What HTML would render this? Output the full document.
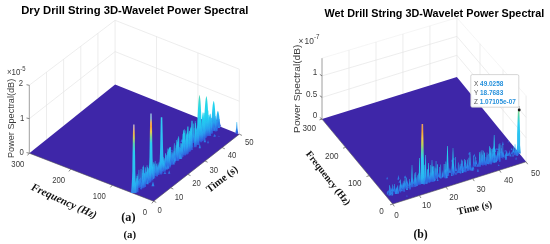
<!DOCTYPE html>
<html><head><meta charset="utf-8"><title>3D-Wavelet Power Spectral</title>
<style>html,body{margin:0;padding:0;background:#fff}svg{display:block}</style></head>
<body>
<svg width="550" height="244" viewBox="0 0 550 244">
<rect width="550" height="244" fill="#FFFFFF"/>
<line x1="29.3" y1="118.7" x2="115.1" y2="51.6" stroke="#E3E3E3" stroke-width="0.65"/>
<line x1="115.1" y1="51.6" x2="239.3" y2="101.2" stroke="#E3E3E3" stroke-width="0.65"/>
<line x1="29.3" y1="85.2" x2="115.1" y2="20.3" stroke="#E3E3E3" stroke-width="0.65"/>
<line x1="115.1" y1="20.3" x2="239.3" y2="69.2" stroke="#E3E3E3" stroke-width="0.65"/>
<line x1="46.5" y1="139.4" x2="46.5" y2="72.2" stroke="#E3E3E3" stroke-width="0.65"/>
<line x1="63.6" y1="125.7" x2="63.6" y2="59.2" stroke="#E3E3E3" stroke-width="0.65"/>
<line x1="80.8" y1="111.9" x2="80.8" y2="46.3" stroke="#E3E3E3" stroke-width="0.65"/>
<line x1="97.9" y1="98.2" x2="97.9" y2="33.3" stroke="#E3E3E3" stroke-width="0.65"/>
<line x1="115.1" y1="84.4" x2="115.1" y2="20.3" stroke="#E3E3E3" stroke-width="0.65"/>
<line x1="156.5" y1="101.0" x2="156.5" y2="36.6" stroke="#E3E3E3" stroke-width="0.65"/>
<line x1="197.9" y1="117.6" x2="197.9" y2="52.9" stroke="#E3E3E3" stroke-width="0.65"/>
<line x1="239.3" y1="134.2" x2="239.3" y2="69.2" stroke="#E3E3E3" stroke-width="0.65"/>
<polygon points="29.3,153.2 153.6,201.2 239.3,134.2 115.1,84.4" fill="#3E26A8"/>
<line x1="29.3" y1="153.2" x2="29.3" y2="85.2" stroke="#6a6a6a" stroke-width="0.65"/>
<line x1="29.3" y1="153.2" x2="153.6" y2="201.2" stroke="#555555" stroke-width="0.6"/>
<line x1="153.6" y1="201.2" x2="239.3" y2="134.2" stroke="#555555" stroke-width="0.6"/>
<line x1="29.3" y1="153.2" x2="26.5" y2="152.6" stroke="#555555" stroke-width="0.7"/>
<line x1="29.3" y1="118.6" x2="26.5" y2="118.0" stroke="#555555" stroke-width="0.7"/>
<line x1="29.3" y1="85.3" x2="26.5" y2="84.7" stroke="#555555" stroke-width="0.7"/>
<line x1="153.6" y1="201.2" x2="151.8" y2="203.4" stroke="#555555" stroke-width="0.7"/>
<line x1="112.2" y1="185.2" x2="110.4" y2="187.4" stroke="#555555" stroke-width="0.7"/>
<line x1="70.7" y1="169.2" x2="68.9" y2="171.4" stroke="#555555" stroke-width="0.7"/>
<line x1="29.3" y1="153.2" x2="27.5" y2="155.4" stroke="#555555" stroke-width="0.7"/>
<line x1="153.6" y1="201.2" x2="156.2" y2="202.4" stroke="#555555" stroke-width="0.7"/>
<line x1="170.7" y1="187.8" x2="173.3" y2="189.0" stroke="#555555" stroke-width="0.7"/>
<line x1="187.9" y1="174.4" x2="190.5" y2="175.6" stroke="#555555" stroke-width="0.7"/>
<line x1="205.0" y1="161.0" x2="207.6" y2="162.2" stroke="#555555" stroke-width="0.7"/>
<line x1="222.2" y1="147.6" x2="224.8" y2="148.8" stroke="#555555" stroke-width="0.7"/>
<line x1="239.3" y1="134.2" x2="241.9" y2="135.4" stroke="#555555" stroke-width="0.7"/>
<defs><linearGradient id="L10" x1="0" y1="1" x2="0" y2="0"><stop offset="0.00" stop-color="#3254DA"/><stop offset="0.50" stop-color="#2B8EED"/><stop offset="1.00" stop-color="#26B6F2"/></linearGradient><linearGradient id="L8" x1="0" y1="1" x2="0" y2="0"><stop offset="0.00" stop-color="#3254DA"/><stop offset="0.50" stop-color="#2C86EC"/><stop offset="1.00" stop-color="#28A6F0"/></linearGradient><linearGradient id="L16" x1="0" y1="1" x2="0" y2="0"><stop offset="0.00" stop-color="#3254DA"/><stop offset="0.50" stop-color="#28A6F0"/><stop offset="1.00" stop-color="#24C6F1"/></linearGradient><linearGradient id="L12" x1="0" y1="1" x2="0" y2="0"><stop offset="0.00" stop-color="#3254DA"/><stop offset="0.50" stop-color="#2A96EE"/><stop offset="1.00" stop-color="#25BBF2"/></linearGradient><linearGradient id="L28" x1="0" y1="1" x2="0" y2="0"><stop offset="0.00" stop-color="#3254DA"/><stop offset="0.25" stop-color="#299EEF"/><stop offset="0.50" stop-color="#24C0F1"/><stop offset="0.75" stop-color="#22D1EF"/><stop offset="1.00" stop-color="#26D5EB"/></linearGradient><linearGradient id="L18" x1="0" y1="1" x2="0" y2="0"><stop offset="0.00" stop-color="#3254DA"/><stop offset="0.33" stop-color="#2A96EE"/><stop offset="0.67" stop-color="#25BBF2"/><stop offset="1.00" stop-color="#23CBF0"/></linearGradient><linearGradient id="L24" x1="0" y1="1" x2="0" y2="0"><stop offset="0.00" stop-color="#3254DA"/><stop offset="0.25" stop-color="#2A96EE"/><stop offset="0.50" stop-color="#25BBF2"/><stop offset="0.75" stop-color="#23CBF0"/><stop offset="1.00" stop-color="#24D2EE"/></linearGradient><linearGradient id="L14" x1="0" y1="1" x2="0" y2="0"><stop offset="0.00" stop-color="#3254DA"/><stop offset="0.50" stop-color="#299EEF"/><stop offset="1.00" stop-color="#24C0F1"/></linearGradient><linearGradient id="L20" x1="0" y1="1" x2="0" y2="0"><stop offset="0.00" stop-color="#3254DA"/><stop offset="0.33" stop-color="#299BEF"/><stop offset="0.67" stop-color="#25BFF1"/><stop offset="1.00" stop-color="#22D0F0"/></linearGradient><linearGradient id="L40" x1="0" y1="1" x2="0" y2="0"><stop offset="0.00" stop-color="#3254DA"/><stop offset="0.17" stop-color="#299BEF"/><stop offset="0.33" stop-color="#25BFF1"/><stop offset="0.50" stop-color="#22D0F0"/><stop offset="0.67" stop-color="#25D4EC"/><stop offset="0.83" stop-color="#29D8E7"/><stop offset="1.00" stop-color="#3BD7CD"/></linearGradient><linearGradient id="L26" x1="0" y1="1" x2="0" y2="0"><stop offset="0.00" stop-color="#3254DA"/><stop offset="0.25" stop-color="#2A9AEE"/><stop offset="0.50" stop-color="#25BEF1"/><stop offset="0.75" stop-color="#22CFF0"/><stop offset="1.00" stop-color="#25D4EC"/></linearGradient><linearGradient id="L22" x1="0" y1="1" x2="0" y2="0"><stop offset="0.00" stop-color="#3254DA"/><stop offset="0.33" stop-color="#29A1EF"/><stop offset="0.67" stop-color="#24C2F1"/><stop offset="1.00" stop-color="#23D1EF"/></linearGradient><linearGradient id="L46" x1="0" y1="1" x2="0" y2="0"><stop offset="0.00" stop-color="#3254DA"/><stop offset="0.14" stop-color="#299BEF"/><stop offset="0.29" stop-color="#25BEF1"/><stop offset="0.43" stop-color="#22CFF0"/><stop offset="0.57" stop-color="#25D4EC"/><stop offset="0.71" stop-color="#28D8E8"/><stop offset="0.86" stop-color="#3AD7CF"/><stop offset="1.00" stop-color="#58D5AA"/></linearGradient><linearGradient id="Lc13" x1="0" y1="1" x2="0" y2="0"><stop offset="0.00" stop-color="#3282E6"/><stop offset="0.12" stop-color="#28B4F2"/><stop offset="1.00" stop-color="#30CDF2"/></linearGradient><linearGradient id="Lc14" x1="0" y1="1" x2="0" y2="0"><stop offset="0.00" stop-color="#3282E6"/><stop offset="0.12" stop-color="#28B4F2"/><stop offset="0.55" stop-color="#2CCDF0"/><stop offset="0.64" stop-color="#78D296"/><stop offset="0.72" stop-color="#E6C850"/><stop offset="0.80" stop-color="#F5A03C"/><stop offset="0.86" stop-color="#F0AA5A"/><stop offset="0.92" stop-color="#8CB4D2"/><stop offset="1.00" stop-color="#8CAAD7"/></linearGradient><linearGradient id="Lc15" x1="0" y1="1" x2="0" y2="0"><stop offset="0.00" stop-color="#3282E6"/><stop offset="0.12" stop-color="#28B4F2"/><stop offset="0.60" stop-color="#2CCDF0"/><stop offset="0.72" stop-color="#5AD2B4"/><stop offset="0.80" stop-color="#C8D25A"/><stop offset="0.87" stop-color="#F0B450"/><stop offset="0.94" stop-color="#D2AAA0"/><stop offset="1.00" stop-color="#B4AAC8"/></linearGradient><filter id="Lb" x="-5%" y="-5%" width="110%" height="110%"><feGaussianBlur stdDeviation="0.35"/></filter></defs>
<g filter="url(#Lb)"><polygon points="213.3,125.5 214.6,119.0 215.9,125.5" fill="#2B8FED"/><path d="M214.6,125.9 Q215.3,121.4 215.4,115.9 L215.9,115.9 Q216.0,121.4 216.7,125.9 Z" fill="url(#L10)"/><path d="M213.5,126.0 Q214.3,121.9 214.3,117.0 L214.8,117.0 Q214.9,121.9 215.6,126.0 Z" fill="url(#L8)"/><path d="M202.9,126.0 Q203.7,122.6 203.8,118.5 L204.3,118.5 Q204.4,122.6 205.1,126.0 Z" fill="url(#L8)"/><path d="M214.8,126.2 Q215.6,122.7 215.6,118.4 L216.1,118.4 Q216.2,122.7 216.9,126.2 Z" fill="url(#L8)"/><path d="M214.3,126.4 C216.5,125.7 216.1,112.7 217.9,110.8 C219.7,112.7 219.3,125.7 221.5,126.4 Z" fill="url(#L16)"/><path d="M212.1,127.1 Q212.9,121.9 213.0,115.6 L213.5,115.6 Q213.5,121.9 214.3,127.1 Z" fill="url(#L12)"/><polygon points="201.7,127.1 203.1,122.8 204.5,127.1" fill="#2D80EA"/><path d="M218.2,127.4 Q218.9,123.6 219.0,119.0 L219.5,119.0 Q219.5,123.6 220.2,127.4 Z" fill="url(#L8)"/><polygon points="210.8,127.9 211.7,121.1 212.5,127.9" fill="#2B91ED"/><path d="M214.7,127.9 Q215.7,124.8 215.9,120.9 L216.4,120.9 Q216.5,124.8 217.5,127.9 Z" fill="url(#L8)"/><polygon points="217.9,128.1 218.9,122.7 220.0,128.1" fill="#2C89EC"/><path d="M210.0,128.6 Q210.9,123.9 211.1,118.1 L211.6,118.1 Q211.7,123.9 212.7,128.6 Z" fill="url(#L10)"/><path d="M207.2,128.7 Q207.8,125.1 207.9,120.7 L208.4,120.7 Q208.4,125.1 209.0,128.7 Z" fill="url(#L8)"/><polygon points="212.9,128.8 214.0,123.8 215.1,128.8" fill="#2C86EC"/><path d="M215.5,128.8 Q216.4,125.1 216.5,120.5 L217.0,120.5 Q217.1,125.1 218.0,128.8 Z" fill="url(#L8)"/><path d="M216.3,128.9 Q216.9,125.3 216.9,121.0 L217.4,121.0 Q217.4,125.3 218.0,128.9 Z" fill="url(#L8)"/><path d="M212.3,129.3 Q213.2,121.7 213.4,112.4 L213.9,112.4 Q214.0,121.7 214.9,129.3 Z" fill="url(#L16)"/><path d="M209.5,129.4 Q210.1,122.4 210.1,113.8 L210.6,113.8 Q210.6,122.4 211.2,129.4 Z" fill="url(#L16)"/><path d="M210.9,129.4 Q211.9,125.3 212.0,120.3 L212.5,120.3 Q212.7,125.3 213.7,129.4 Z" fill="url(#L10)"/><path d="M213.4,129.6 Q214.3,126.2 214.4,122.0 L214.9,122.0 Q215.0,126.2 215.8,129.6 Z" fill="url(#L8)"/><path d="M208.1,129.7 Q208.8,125.3 208.9,120.1 L209.4,120.1 Q209.4,125.3 210.1,129.7 Z" fill="url(#L10)"/><path d="M209.7,129.7 C212.1,128.3 211.7,104.4 213.7,101.0 C215.7,104.4 215.3,128.3 217.7,129.7 Z" fill="url(#L28)"/><path d="M208.2,130.0 Q209.1,124.2 209.2,117.1 L209.7,117.1 Q209.9,124.2 210.7,130.0 Z" fill="url(#L12)"/><polygon points="207.8,130.2 208.9,124.1 209.9,130.2" fill="#2B8DED"/><path d="M210.6,130.4 Q211.4,124.7 211.4,117.7 L211.9,117.7 Q212.0,124.7 212.8,130.4 Z" fill="url(#L12)"/><polygon points="215.4,130.5 216.6,127.2 217.8,130.5" fill="#2E75E6"/><path d="M210.7,130.5 Q211.8,126.9 212.0,122.6 L212.5,122.6 Q212.7,126.9 213.7,130.5 Z" fill="url(#L8)"/><polygon points="213.3,130.6 214.7,126.4 216.1,130.6" fill="#2D7DE9"/><polygon points="212.3,130.7 213.2,125.8 214.0,130.7" fill="#2C86EC"/><path d="M211.6,130.8 Q212.4,127.1 212.5,122.7 L213.0,122.7 Q213.1,127.1 214.0,130.8 Z" fill="url(#L8)"/><path d="M208.8,130.9 Q209.7,126.1 209.9,120.2 L210.4,120.2 Q210.5,126.1 211.4,130.9 Z" fill="url(#L10)"/><polygon points="214.2,131.0 215.6,126.2 216.9,131.0" fill="#2C84EB"/><polygon points="215.0,131.1 216.4,129.5 217.7,131.1" fill="#3064E0"/><path d="M214.7,131.4 Q215.4,125.8 215.5,119.1 L216.0,119.1 Q216.0,125.8 216.7,131.4 Z" fill="url(#L12)"/><polygon points="209.3,131.6 210.4,125.9 211.6,131.6" fill="#2B8BED"/><path d="M209.6,131.8 Q210.7,127.6 210.9,122.4 L211.4,122.4 Q211.6,127.6 212.6,131.8 Z" fill="url(#L10)"/><path d="M206.8,132.7 C208.7,131.7 208.4,116.2 210.0,114.0 C211.6,116.2 211.3,131.7 213.2,132.7 Z" fill="url(#L18)"/><path d="M208.2,132.9 Q208.7,127.8 208.7,121.6 L209.2,121.6 Q209.2,127.8 209.8,132.9 Z" fill="url(#L12)"/><path d="M210.3,133.2 Q211.1,128.2 211.2,122.1 L211.7,122.1 Q211.8,128.2 212.6,133.2 Z" fill="url(#L12)"/><path d="M208.4,133.3 Q209.2,127.5 209.4,120.5 L209.9,120.5 Q210.0,127.5 210.9,133.3 Z" fill="url(#L12)"/><path d="M207.2,133.6 Q207.8,123.2 207.8,110.5 L208.3,110.5 Q208.4,123.2 209.0,133.6 Z" fill="url(#L24)"/><path d="M208.8,133.6 Q209.5,126.7 209.5,118.3 L210.0,118.3 Q210.0,126.7 210.7,133.6 Z" fill="url(#L16)"/><path d="M235.3,133.7 Q236.4,128.4 236.6,121.9 L237.1,121.9 Q237.2,128.4 238.3,133.7 Z" fill="url(#L12)"/><path d="M210.5,133.8 Q211.2,127.8 211.3,120.4 L211.8,120.4 Q211.9,127.8 212.6,133.8 Z" fill="url(#L14)"/><path d="M203.6,134.0 Q204.5,127.7 204.7,119.9 L205.2,119.9 Q205.3,127.7 206.2,134.0 Z" fill="url(#L14)"/><path d="M207.9,134.5 Q208.7,127.0 208.8,117.8 L209.3,117.8 Q209.4,127.0 210.1,134.5 Z" fill="url(#L16)"/><path d="M203.3,134.6 Q204.0,125.6 204.1,114.6 L204.6,114.6 Q204.6,125.6 205.4,134.6 Z" fill="url(#L20)"/><path d="M201.5,134.7 Q202.3,131.3 202.4,127.2 L202.9,127.2 Q203.1,131.3 203.9,134.7 Z" fill="url(#L8)"/><path d="M201.3,135.0 Q202.1,131.3 202.2,126.8 L202.7,126.8 Q202.9,131.3 203.7,135.0 Z" fill="url(#L8)"/><polygon points="207.5,135.0 208.6,129.0 209.7,135.0" fill="#2B8CED"/><path d="M207.0,135.1 Q207.8,126.0 207.8,115.0 L208.3,115.0 Q208.4,126.0 209.2,135.1 Z" fill="url(#L20)"/><path d="M204.7,135.4 Q205.5,130.2 205.5,123.8 L206.0,123.8 Q206.1,130.2 206.9,135.4 Z" fill="url(#L12)"/><path d="M202.2,135.5 C204.7,133.5 204.3,100.7 206.4,96.0 C208.5,100.7 208.1,133.5 210.6,135.5 Z" fill="url(#L40)"/><path d="M206.6,136.0 Q207.2,130.9 207.2,124.8 L207.7,124.8 Q207.7,130.9 208.3,136.0 Z" fill="url(#L12)"/><path d="M207.7,136.0 Q208.5,126.6 208.6,115.1 L209.1,115.1 Q209.2,126.6 210.0,136.0 Z" fill="url(#L20)"/><path d="M208.4,136.1 Q209.3,131.8 209.5,126.6 L210.0,126.6 Q210.2,131.8 211.2,136.1 Z" fill="url(#L10)"/><polygon points="213.6,136.3 214.8,134.5 216.1,136.3" fill="#3067E1"/><path d="M205.8,136.5 Q206.5,129.3 206.5,120.5 L207.0,120.5 Q207.0,129.3 207.6,136.5 Z" fill="url(#L16)"/><polygon points="217.6,136.5 218.9,135.7 220.2,136.5" fill="#315CDD"/><polygon points="189.3,136.6 190.6,130.9 192.0,136.6" fill="#2B8BED"/><path d="M199.2,136.7 Q199.8,131.6 199.8,125.3 L200.3,125.3 Q200.4,131.6 201.0,136.7 Z" fill="url(#L12)"/><polygon points="213.3,136.7 214.5,134.1 215.7,136.7" fill="#2F6EE3"/><path d="M202.3,136.9 Q203.3,131.2 203.5,124.2 L204.0,124.2 Q204.2,131.2 205.2,136.9 Z" fill="url(#L12)"/><path d="M199.3,137.0 Q200.0,130.9 200.0,123.5 L200.5,123.5 Q200.6,130.9 201.3,137.0 Z" fill="url(#L14)"/><path d="M202.3,137.0 Q203.2,131.4 203.3,124.5 L203.8,124.5 Q204.0,131.4 204.9,137.0 Z" fill="url(#L12)"/><path d="M202.2,137.2 Q203.1,131.3 203.2,124.1 L203.7,124.1 Q203.9,131.3 204.7,137.2 Z" fill="url(#L14)"/><path d="M202.6,137.2 Q203.6,133.9 203.8,129.9 L204.3,129.9 Q204.4,133.9 205.4,137.2 Z" fill="url(#L8)"/><path d="M204.0,137.7 Q204.9,131.2 205.1,123.2 L205.6,123.2 Q205.8,131.2 206.8,137.7 Z" fill="url(#L14)"/><polygon points="187.2,137.9 188.6,132.9 190.1,137.9" fill="#2C86EC"/><path d="M203.1,138.0 Q203.7,134.5 203.7,130.3 L204.2,130.3 Q204.1,134.5 204.7,138.0 Z" fill="url(#L8)"/><path d="M199.8,138.1 C201.7,136.8 201.4,115.1 203.0,112.0 C204.6,115.1 204.3,136.8 206.2,138.1 Z" fill="url(#L26)"/><path d="M199.5,138.5 Q200.3,128.3 200.4,115.7 L200.9,115.7 Q200.9,128.3 201.7,138.5 Z" fill="url(#L22)"/><path d="M199.3,138.7 Q200.3,127.5 200.4,113.7 L200.9,113.7 Q201.1,127.5 202.1,138.7 Z" fill="url(#L26)"/><path d="M198.6,139.3 Q199.6,129.0 199.8,116.4 L200.3,116.4 Q200.5,129.0 201.5,139.3 Z" fill="url(#L22)"/><path d="M202.4,139.3 Q203.3,133.8 203.4,127.1 L203.9,127.1 Q204.1,133.8 205.0,139.3 Z" fill="url(#L12)"/><path d="M203.2,139.5 Q204.0,127.4 204.1,112.7 L204.6,112.7 Q204.7,127.4 205.5,139.5 Z" fill="url(#L26)"/><path d="M201.3,139.8 Q202.3,136.3 202.5,132.0 L203.0,132.0 Q203.1,136.3 204.1,139.8 Z" fill="url(#L8)"/><path d="M197.2,139.8 Q197.9,133.6 198.0,126.0 L198.5,126.0 Q198.5,133.6 199.2,139.8 Z" fill="url(#L14)"/><path d="M203.0,139.9 Q203.7,127.8 203.7,113.1 L204.2,113.1 Q204.2,127.8 204.8,139.9 Z" fill="url(#L26)"/><path d="M198.4,139.9 Q199.4,129.8 199.6,117.4 L200.1,117.4 Q200.3,129.8 201.3,139.9 Z" fill="url(#L22)"/><path d="M197.2,140.1 Q197.8,135.2 197.8,129.3 L198.3,129.3 Q198.4,135.2 199.0,140.1 Z" fill="url(#L10)"/><path d="M195.3,140.9 C197.8,138.6 197.4,100.3 199.5,94.8 C201.6,100.3 201.2,138.6 203.7,140.9 Z" fill="url(#L46)"/><path d="M194.2,141.0 Q195.2,133.0 195.4,123.2 L195.9,123.2 Q196.1,133.0 197.1,141.0 Z" fill="url(#L18)"/><path d="M195.2,141.1 Q196.2,135.6 196.4,128.8 L196.9,128.8 Q197.1,135.6 198.1,141.1 Z" fill="url(#L12)"/><path d="M201.4,141.2 Q202.1,136.8 202.2,131.4 L202.7,131.4 Q202.7,136.8 203.4,141.2 Z" fill="url(#L10)"/><path d="M194.3,141.3 Q195.3,133.1 195.5,123.1 L196.0,123.1 Q196.2,133.1 197.2,141.3 Z" fill="url(#L18)"/><polygon points="187.5,141.7 188.6,138.1 189.8,141.7" fill="#2E79E7"/><path d="M194.6,141.9 Q195.5,138.0 195.6,133.2 L196.1,133.2 Q196.2,138.0 197.1,141.9 Z" fill="url(#L8)"/><polygon points="183.7,141.9 184.7,137.3 185.7,141.9" fill="#2C82EB"/><path d="M196.1,142.0 Q196.7,135.6 196.7,127.9 L197.2,127.9 Q197.2,135.6 197.7,142.0 Z" fill="url(#L14)"/><path d="M200.1,142.2 Q200.7,136.8 200.7,130.2 L201.2,130.2 Q201.3,136.8 201.9,142.2 Z" fill="url(#L12)"/><polygon points="180.4,142.3 181.7,139.0 182.9,142.3" fill="#2E75E6"/><polygon points="203.7,142.3 204.9,137.9 206.0,142.3" fill="#2D81EA"/><path d="M198.1,142.6 Q198.6,138.3 198.7,133.0 L199.2,133.0 Q199.2,138.3 199.8,142.6 Z" fill="url(#L10)"/><path d="M195.8,142.7 Q196.5,137.0 196.5,130.0 L197.0,130.0 Q197.1,137.0 197.8,142.7 Z" fill="url(#L12)"/><path d="M197.3,142.8 Q197.9,137.7 197.9,131.3 L198.4,131.3 Q198.4,137.7 199.1,142.8 Z" fill="url(#L12)"/><path d="M193.0,142.9 Q193.7,136.2 193.8,128.1 L194.3,128.1 Q194.3,136.2 195.0,142.9 Z" fill="url(#L14)"/><polygon points="183.3,142.9 184.1,139.9 185.0,142.9" fill="#2E73E5"/><path d="M192.1,143.1 Q192.9,134.2 193.0,123.5 L193.5,123.5 Q193.6,134.2 194.5,143.1 Z" fill="url(#L20)"/><path d="M196.4,143.1 Q197.0,135.5 197.1,126.3 L197.6,126.3 Q197.6,135.5 198.2,143.1 Z" fill="url(#L16)"/><polygon points="207.2,143.3 208.0,140.3 208.9,143.3" fill="#2E72E5"/><path d="M191.4,143.4 Q192.0,133.2 192.1,120.8 L192.6,120.8 Q192.6,133.2 193.2,143.4 Z" fill="url(#L22)"/><path d="M195.4,143.6 Q196.1,138.6 196.2,132.4 L196.7,132.4 Q196.8,138.6 197.5,143.6 Z" fill="url(#L12)"/><path d="M197.5,144.2 Q198.1,140.3 198.1,135.7 L198.6,135.7 Q198.6,140.3 199.2,144.2 Z" fill="url(#L8)"/><path d="M196.5,144.2 Q197.5,138.9 197.7,132.4 L198.2,132.4 Q198.4,138.9 199.5,144.2 Z" fill="url(#L12)"/><path d="M195.5,144.7 Q196.6,140.3 196.8,135.0 L197.3,135.0 Q197.4,140.3 198.5,144.7 Z" fill="url(#L10)"/><path d="M195.6,144.8 Q196.6,139.3 196.8,132.6 L197.3,132.6 Q197.4,139.3 198.4,144.8 Z" fill="url(#L12)"/><path d="M196.8,145.1 Q197.7,140.6 197.8,135.1 L198.3,135.1 Q198.5,140.6 199.4,145.1 Z" fill="url(#L10)"/><polygon points="184.8,145.1 186.2,138.3 187.5,145.1" fill="#2B92ED"/><path d="M190.3,145.5 Q191.2,134.3 191.3,120.7 L191.8,120.7 Q191.9,134.3 192.7,145.5 Z" fill="url(#L24)"/><path d="M188.4,145.6 Q189.2,142.1 189.3,137.9 L189.8,137.9 Q189.8,142.1 190.6,145.6 Z" fill="url(#L8)"/><path d="M187.5,146.2 Q188.5,143.0 188.7,139.0 L189.2,139.0 Q189.3,143.0 190.3,146.2 Z" fill="url(#L8)"/><path d="M188.2,146.2 Q189.0,139.2 189.1,130.7 L189.6,130.7 Q189.7,139.2 190.6,146.2 Z" fill="url(#L16)"/><path d="M194.5,146.6 Q195.3,137.0 195.3,125.4 L195.8,125.4 Q195.9,137.0 196.7,146.6 Z" fill="url(#L22)"/><path d="M189.0,146.9 Q190.0,138.7 190.1,128.6 L190.6,128.6 Q190.8,138.7 191.8,146.9 Z" fill="url(#L18)"/><path d="M193.8,147.3 Q194.7,135.4 194.9,120.9 L195.4,120.9 Q195.6,135.4 196.5,147.3 Z" fill="url(#L26)"/><path d="M188.4,147.6 C190.0,146.5 189.7,129.0 191.0,126.5 C192.3,129.0 192.0,146.5 193.6,147.6 Z" fill="url(#L22)"/><polygon points="186.8,147.9 188.2,141.4 189.6,147.9" fill="#2B90ED"/><path d="M186.8,147.9 Q187.8,138.3 187.9,126.6 L188.4,126.6 Q188.6,138.3 189.5,147.9 Z" fill="url(#L22)"/><polygon points="198.7,148.2 199.8,143.4 200.9,148.2" fill="#2C83EB"/><path d="M185.4,148.6 Q186.1,144.4 186.2,139.2 L186.7,139.2 Q186.8,144.4 187.5,148.6 Z" fill="url(#L10)"/><path d="M185.2,148.7 Q186.2,141.9 186.3,133.6 L186.8,133.6 Q187.0,141.9 188.0,148.7 Z" fill="url(#L16)"/><path d="M186.1,149.6 Q187.2,139.2 187.3,126.5 L187.8,126.5 Q188.0,139.2 189.0,149.6 Z" fill="url(#L24)"/><path d="M189.7,149.6 Q190.3,145.7 190.3,140.9 L190.8,140.9 Q190.8,145.7 191.4,149.6 Z" fill="url(#L8)"/><path d="M187.0,149.8 Q188.0,146.2 188.2,141.7 L188.7,141.7 Q188.8,146.2 189.9,149.8 Z" fill="url(#L8)"/><path d="M190.5,150.1 Q191.4,146.2 191.5,141.6 L192.0,141.6 Q192.1,146.2 192.9,150.1 Z" fill="url(#L8)"/><path d="M184.7,150.4 Q185.8,145.2 186.0,138.8 L186.5,138.8 Q186.6,145.2 187.7,150.4 Z" fill="url(#L12)"/><path d="M189.8,150.4 Q190.4,147.1 190.4,143.2 L190.9,143.2 Q190.9,147.1 191.4,150.4 Z" fill="url(#L8)"/><path d="M188.6,150.4 Q189.3,142.7 189.3,133.3 L189.8,133.3 Q189.8,142.7 190.4,150.4 Z" fill="url(#L18)"/><path d="M183.5,150.5 Q184.3,141.0 184.3,129.3 L184.8,129.3 Q184.9,141.0 185.6,150.5 Z" fill="url(#L22)"/><path d="M188.7,150.6 Q189.4,141.8 189.5,131.1 L190.0,131.1 Q190.1,141.8 190.8,150.6 Z" fill="url(#L20)"/><path d="M187.0,150.8 Q187.6,146.4 187.6,141.1 L188.1,141.1 Q188.1,146.4 188.6,150.8 Z" fill="url(#L10)"/><path d="M186.5,151.0 Q187.1,146.9 187.1,141.9 L187.6,141.9 Q187.6,146.9 188.2,151.0 Z" fill="url(#L10)"/><path d="M186.0,151.3 Q187.0,146.9 187.2,141.6 L187.7,141.6 Q187.9,146.9 188.9,151.3 Z" fill="url(#L10)"/><polygon points="171.0,151.3 172.0,149.6 173.0,151.3" fill="#3065E0"/><path d="M184.6,151.4 Q185.5,142.0 185.6,130.5 L186.1,130.5 Q186.2,142.0 187.1,151.4 Z" fill="url(#L20)"/><path d="M186.5,151.4 Q187.2,147.9 187.2,143.7 L187.7,143.7 Q187.8,147.9 188.5,151.4 Z" fill="url(#L8)"/><path d="M188.4,151.4 Q189.2,147.7 189.3,143.2 L189.8,143.2 Q189.8,147.7 190.6,151.4 Z" fill="url(#L8)"/><path d="M179.6,151.6 Q180.6,147.8 180.8,143.1 L181.3,143.1 Q181.5,147.8 182.5,151.6 Z" fill="url(#L8)"/><path d="M188.5,151.6 Q189.2,147.4 189.3,142.3 L189.8,142.3 Q189.8,147.4 190.6,151.6 Z" fill="url(#L10)"/><path d="M188.0,151.8 Q188.6,147.2 188.7,141.6 L189.2,141.6 Q189.2,147.2 189.8,151.8 Z" fill="url(#L10)"/><path d="M186.2,152.3 Q187.0,146.7 187.1,139.8 L187.6,139.8 Q187.8,146.7 188.6,152.3 Z" fill="url(#L12)"/><path d="M181.9,152.7 Q182.6,144.2 182.7,133.8 L183.2,133.8 Q183.2,144.2 184.0,152.7 Z" fill="url(#L18)"/><path d="M184.9,152.7 Q185.9,144.6 186.0,134.7 L186.5,134.7 Q186.7,144.6 187.6,152.7 Z" fill="url(#L18)"/><path d="M182.9,152.7 Q183.5,147.9 183.5,142.1 L184.0,142.1 Q184.0,147.9 184.6,152.7 Z" fill="url(#L10)"/><path d="M185.9,152.7 Q186.8,147.4 187.0,140.8 L187.5,140.8 Q187.6,147.4 188.5,152.7 Z" fill="url(#L12)"/><path d="M183.0,152.8 Q183.8,143.8 183.9,132.9 L184.4,132.9 Q184.4,143.8 185.2,152.8 Z" fill="url(#L20)"/><path d="M183.0,152.8 Q184.0,143.8 184.1,132.9 L184.6,132.9 Q184.8,143.8 185.7,152.8 Z" fill="url(#L20)"/><path d="M181.1,152.9 Q182.0,149.4 182.2,145.1 L182.7,145.1 Q182.8,149.4 183.7,152.9 Z" fill="url(#L8)"/><path d="M181.1,153.3 C182.7,152.1 182.4,132.3 183.7,129.4 C185.0,132.3 184.7,152.1 186.3,153.3 Z" fill="url(#L24)"/><path d="M182.9,153.5 Q183.7,147.1 183.9,139.4 L184.4,139.4 Q184.5,147.1 185.3,153.5 Z" fill="url(#L14)"/><path d="M179.7,153.8 Q180.6,149.0 180.7,143.1 L181.2,143.1 Q181.3,149.0 182.2,153.8 Z" fill="url(#L10)"/><path d="M185.7,153.8 Q186.8,144.0 187.0,132.0 L187.5,132.0 Q187.7,144.0 188.7,153.8 Z" fill="url(#L22)"/><path d="M177.8,154.0 Q178.5,146.4 178.6,137.2 L179.1,137.2 Q179.2,146.4 180.0,154.0 Z" fill="url(#L16)"/><path d="M177.5,154.1 Q178.2,146.1 178.2,136.3 L178.7,136.3 Q178.8,146.1 179.5,154.1 Z" fill="url(#L18)"/><path d="M183.6,154.5 Q184.3,147.9 184.4,139.9 L184.9,139.9 Q184.9,147.9 185.6,154.5 Z" fill="url(#L14)"/><path d="M184.9,154.6 Q185.9,148.9 186.1,141.9 L186.6,141.9 Q186.8,148.9 187.9,154.6 Z" fill="url(#L12)"/><path d="M181.6,154.8 Q182.3,151.6 182.4,147.6 L182.9,147.6 Q182.9,151.6 183.6,154.8 Z" fill="url(#L8)"/><polygon points="183.2,155.1 184.4,148.5 185.7,155.1" fill="#2B91ED"/><path d="M175.9,155.3 Q177.0,152.0 177.2,148.0 L177.7,148.0 Q177.8,152.0 178.9,155.3 Z" fill="url(#L8)"/><path d="M183.3,155.4 Q184.2,150.7 184.4,145.0 L184.9,145.0 Q185.0,150.7 186.0,155.4 Z" fill="url(#L10)"/><path d="M180.6,156.2 Q181.4,150.6 181.5,143.8 L182.0,143.8 Q182.1,150.6 183.0,156.2 Z" fill="url(#L12)"/><polygon points="171.0,156.4 172.1,153.1 173.3,156.4" fill="#2E76E6"/><path d="M179.0,156.5 Q179.6,152.9 179.6,148.4 L180.1,148.4 Q180.2,152.9 180.8,156.5 Z" fill="url(#L8)"/><path d="M176.7,157.0 Q177.3,150.3 177.3,142.1 L177.8,142.1 Q177.8,150.3 178.4,157.0 Z" fill="url(#L14)"/><path d="M181.7,157.1 Q182.3,149.3 182.3,139.6 L182.8,139.6 Q182.9,149.3 183.5,157.1 Z" fill="url(#L18)"/><path d="M175.6,157.8 C177.0,156.8 176.8,140.4 178.0,138.0 C179.2,140.4 179.0,156.8 180.4,157.8 Z" fill="url(#L20)"/><path d="M179.6,157.8 Q180.4,153.4 180.4,148.0 L180.9,148.0 Q181.0,153.4 181.8,157.8 Z" fill="url(#L10)"/><path d="M176.1,158.2 Q176.9,152.5 177.0,145.5 L177.5,145.5 Q177.6,152.5 178.4,158.2 Z" fill="url(#L12)"/><path d="M179.8,158.3 Q180.7,151.7 180.9,143.6 L181.4,143.6 Q181.5,151.7 182.5,158.3 Z" fill="url(#L14)"/><polygon points="173.0,158.3 174.3,153.0 175.6,158.3" fill="#2C88EC"/><path d="M175.3,158.3 Q176.1,150.1 176.2,140.1 L176.7,140.1 Q176.8,150.1 177.7,158.3 Z" fill="url(#L18)"/><polygon points="179.0,158.4 179.8,151.5 180.7,158.4" fill="#2A92EE"/><path d="M178.9,158.8 Q179.5,153.5 179.5,147.1 L180.0,147.1 Q180.0,153.5 180.6,158.8 Z" fill="url(#L12)"/><polygon points="179.3,159.0 180.6,152.9 182.0,159.0" fill="#2B8DED"/><polygon points="178.0,159.1 179.4,152.7 180.9,159.1" fill="#2B8FED"/><path d="M175.0,159.3 Q175.7,153.0 175.7,145.2 L176.2,145.2 Q176.3,153.0 176.9,159.3 Z" fill="url(#L14)"/><path d="M174.8,159.6 Q175.7,156.1 175.9,151.8 L176.4,151.8 Q176.5,156.1 177.4,159.6 Z" fill="url(#L8)"/><path d="M170.6,159.7 Q171.5,156.2 171.6,151.9 L172.1,151.9 Q172.3,156.2 173.2,159.7 Z" fill="url(#L8)"/><path d="M176.6,160.3 Q177.6,153.6 177.8,145.5 L178.3,145.5 Q178.4,153.6 179.4,160.3 Z" fill="url(#L14)"/><path d="M175.0,160.3 Q175.7,154.9 175.7,148.2 L176.2,148.2 Q176.3,154.9 177.0,160.3 Z" fill="url(#L12)"/><path d="M172.8,160.6 Q173.8,152.8 174.0,143.3 L174.5,143.3 Q174.6,152.8 175.6,160.6 Z" fill="url(#L18)"/><polygon points="174.1,160.9 175.3,155.6 176.5,160.9" fill="#2C88EC"/><path d="M169.6,160.9 Q170.4,157.4 170.5,153.1 L171.0,153.1 Q171.1,157.4 171.9,160.9 Z" fill="url(#L8)"/><path d="M176.5,161.1 Q177.3,157.6 177.5,153.3 L178.0,153.3 Q178.1,157.6 178.9,161.1 Z" fill="url(#L8)"/><polygon points="164.5,161.4 165.5,159.0 166.5,161.4" fill="#2F6CE2"/><path d="M171.6,161.5 Q172.6,157.4 172.7,152.4 L173.2,152.4 Q173.4,157.4 174.3,161.5 Z" fill="url(#L10)"/><polygon points="169.9,161.6 170.9,156.9 171.9,161.6" fill="#2C83EB"/><path d="M168.0,161.6 Q168.9,155.4 169.0,147.8 L169.5,147.8 Q169.6,155.4 170.5,161.6 Z" fill="url(#L14)"/><path d="M167.5,161.8 Q168.2,156.9 168.2,151.0 L168.7,151.0 Q168.7,156.9 169.4,161.8 Z" fill="url(#L10)"/><path d="M173.5,161.8 Q174.1,156.9 174.2,150.9 L174.7,150.9 Q174.7,156.9 175.3,161.8 Z" fill="url(#L10)"/><path d="M169.3,161.9 Q170.2,155.2 170.4,147.0 L170.9,147.0 Q171.0,155.2 172.0,161.9 Z" fill="url(#L14)"/><path d="M168.8,162.1 Q169.6,158.5 169.6,154.0 L170.1,154.0 Q170.2,158.5 170.9,162.1 Z" fill="url(#L8)"/><path d="M169.1,162.4 Q170.0,158.6 170.2,153.8 L170.7,153.8 Q170.8,158.6 171.7,162.4 Z" fill="url(#L8)"/><polygon points="173.4,162.5 174.5,155.7 175.6,162.5" fill="#2B91ED"/><polygon points="166.3,162.6 167.1,158.6 167.9,162.6" fill="#2D7BE8"/><polygon points="167.8,162.8 168.7,157.2 169.6,162.8" fill="#2B8AED"/><path d="M169.0,162.9 Q169.6,158.2 169.6,152.6 L170.1,152.6 Q170.1,158.2 170.7,162.9 Z" fill="url(#L10)"/><polygon points="172.4,163.0 173.4,156.9 174.4,163.0" fill="#2B8DED"/><path d="M168.4,163.3 Q169.1,156.7 169.2,148.6 L169.7,148.6 Q169.7,156.7 170.5,163.3 Z" fill="url(#L14)"/><path d="M169.5,163.4 Q170.1,156.1 170.1,147.1 L170.6,147.1 Q170.7,156.1 171.3,163.4 Z" fill="url(#L16)"/><path d="M168.5,163.5 Q169.3,158.5 169.5,152.2 L170.0,152.2 Q170.1,158.5 170.9,163.5 Z" fill="url(#L12)"/><path d="M171.8,163.8 Q172.7,158.2 172.8,151.3 L173.3,151.3 Q173.5,158.2 174.4,163.8 Z" fill="url(#L12)"/><path d="M164.6,163.9 Q165.5,159.3 165.6,153.6 L166.1,153.6 Q166.2,159.3 167.1,163.9 Z" fill="url(#L10)"/><path d="M167.8,164.0 Q168.5,157.5 168.5,149.6 L169.0,149.6 Q169.0,157.5 169.7,164.0 Z" fill="url(#L14)"/><path d="M166.9,164.1 Q167.5,157.1 167.6,148.6 L168.1,148.6 Q168.1,157.1 168.8,164.1 Z" fill="url(#L16)"/><path d="M168.0,164.5 Q168.6,158.1 168.6,150.4 L169.1,150.4 Q169.2,158.1 169.8,164.5 Z" fill="url(#L14)"/><path d="M167.0,164.5 C168.4,163.6 168.2,148.8 169.4,146.7 C170.6,148.8 170.4,163.6 171.8,164.5 Z" fill="url(#L18)"/><polygon points="172.5,164.5 173.7,160.0 174.8,164.5" fill="#2D81EA"/><path d="M168.0,164.6 Q168.7,157.4 168.8,148.5 L169.3,148.5 Q169.4,157.4 170.1,164.6 Z" fill="url(#L16)"/><path d="M170.6,164.7 Q171.6,160.8 171.7,155.9 L172.2,155.9 Q172.4,160.8 173.4,164.7 Z" fill="url(#L8)"/><polygon points="158.9,164.8 159.8,162.8 160.6,164.8" fill="#3068E1"/><path d="M165.5,164.8 Q166.3,160.4 166.4,154.9 L166.9,154.9 Q166.9,160.4 167.7,164.8 Z" fill="url(#L10)"/><polygon points="164.9,164.8 165.8,158.6 166.6,164.8" fill="#2B8EED"/><path d="M164.3,165.0 Q165.3,159.8 165.4,153.3 L165.9,153.3 Q166.1,159.8 167.0,165.0 Z" fill="url(#L12)"/><polygon points="168.5,165.2 169.9,159.6 171.3,165.2" fill="#2B8AED"/><polygon points="167.6,165.3 168.5,161.2 169.5,165.3" fill="#2D7DE9"/><path d="M166.0,165.5 Q167.1,159.4 167.3,151.8 L167.8,151.8 Q168.0,159.4 169.0,165.5 Z" fill="url(#L14)"/><path d="M164.5,165.6 Q165.4,161.3 165.5,156.0 L166.0,156.0 Q166.1,161.3 166.9,165.6 Z" fill="url(#L10)"/><polygon points="168.6,165.8 169.5,159.2 170.5,165.8" fill="#2B90ED"/><polygon points="162.7,165.8 163.6,158.9 164.4,165.8" fill="#2B92ED"/><polygon points="168.3,165.9 169.5,161.2 170.7,165.9" fill="#2C83EB"/><path d="M164.2,165.9 Q165.2,162.7 165.3,158.7 L165.8,158.7 Q166.0,162.7 166.9,165.9 Z" fill="url(#L8)"/><polygon points="168.1,166.3 169.4,160.4 170.7,166.3" fill="#2B8CED"/><path d="M167.7,166.8 Q168.7,160.8 168.9,153.5 L169.4,153.5 Q169.6,160.8 170.6,166.8 Z" fill="url(#L14)"/><polygon points="161.8,166.9 162.6,163.1 163.5,166.9" fill="#2D7AE8"/><path d="M166.4,167.1 Q167.3,162.4 167.4,156.6 L167.9,156.6 Q168.1,162.4 169.0,167.1 Z" fill="url(#L10)"/><path d="M168.0,167.2 Q168.8,163.1 168.9,158.2 L169.4,158.2 Q169.4,163.1 170.2,167.2 Z" fill="url(#L8)"/><path d="M168.1,167.6 Q169.0,161.0 169.2,153.0 L169.7,153.0 Q169.8,161.0 170.7,167.6 Z" fill="url(#L14)"/><path d="M164.7,168.1 Q165.5,163.6 165.6,158.1 L166.1,158.1 Q166.2,163.6 167.0,168.1 Z" fill="url(#L10)"/><path d="M160.2,168.5 Q160.8,164.6 160.8,159.9 L161.3,159.9 Q161.3,164.6 161.8,168.5 Z" fill="url(#L8)"/><polygon points="166.5,168.7 167.9,163.4 169.4,168.7" fill="#2C88EC"/><polygon points="161.2,168.9 162.5,162.8 163.8,168.9" fill="#2B8DED"/><polygon points="157.3,169.5 158.6,163.4 159.8,169.5" fill="#2B8DED"/><polygon points="163.4,169.5 164.9,162.8 166.3,169.5" fill="#2B91ED"/><polygon points="165.3,169.5 166.7,165.6 168.0,169.5" fill="#2D7BE8"/><path d="M161.0,169.6 Q161.8,165.3 161.9,160.0 L162.4,160.0 Q162.5,165.3 163.3,169.6 Z" fill="url(#L10)"/><path d="M162.2,169.9 Q163.1,164.0 163.2,156.9 L163.7,156.9 Q163.8,164.0 164.7,169.9 Z" fill="url(#L12)"/><polygon points="163.9,169.9 164.7,165.5 165.5,169.9" fill="#2D80EA"/><path d="M161.8,170.0 Q162.5,166.7 162.5,162.6 L163.0,162.6 Q163.1,166.7 163.8,170.0 Z" fill="url(#L8)"/><polygon points="162.6,170.4 164.1,166.3 165.6,170.4" fill="#2D7DE9"/><polygon points="162.8,170.4 164.2,166.3 165.6,170.4" fill="#2D7DE9"/><path d="M158.6,170.7 Q160.1,160.0 160.2,146.6 L160.8,117.2 L162.3,117.2 L163.0,146.6 Q163.1,160.0 164.6,170.7 Z" fill="url(#Lc13)"/><polygon points="156.8,170.8 157.9,165.0 159.0,170.8" fill="#2B8BED"/><path d="M161.0,171.0 Q161.8,166.8 161.9,161.8 L162.4,161.8 Q162.5,166.8 163.3,171.0 Z" fill="url(#L10)"/><polygon points="155.9,171.4 157.0,166.3 158.1,171.4" fill="#2C87EC"/><polygon points="156.4,171.5 157.4,167.9 158.4,171.5" fill="#2E78E7"/><path d="M155.3,171.5 Q156.3,168.1 156.5,163.9 L157.0,163.9 Q157.1,168.1 158.1,171.5 Z" fill="url(#L8)"/><polygon points="160.6,171.5 162.0,167.6 163.3,171.5" fill="#2D7BE8"/><path d="M163.0,171.7 Q164.0,165.6 164.2,158.2 L164.7,158.2 Q164.8,165.6 165.8,171.7 Z" fill="url(#L14)"/><path d="M154.0,172.5 Q154.8,167.3 154.9,161.0 L155.4,161.0 Q155.5,167.3 156.3,172.5 Z" fill="url(#L12)"/><polygon points="153.9,173.0 155.4,169.3 156.8,173.0" fill="#2E79E7"/><path d="M160.3,173.4 Q161.2,167.9 161.3,161.3 L161.8,161.3 Q161.9,167.9 162.7,173.4 Z" fill="url(#L12)"/><path d="M157.6,173.6 Q158.6,168.5 158.8,162.3 L159.3,162.3 Q159.5,168.5 160.4,173.6 Z" fill="url(#L12)"/><polygon points="168.0,173.8 169.2,170.2 170.3,173.8" fill="#2E78E7"/><polygon points="163.4,174.0 164.9,171.4 166.3,174.0" fill="#2F6EE3"/><path d="M153.2,174.2 Q153.8,169.0 153.8,162.7 L154.3,162.7 Q154.3,169.0 154.8,174.2 Z" fill="url(#L12)"/><polygon points="152.7,174.5 154.1,168.8 155.6,174.5" fill="#2B8AED"/><path d="M159.6,174.5 Q160.5,171.2 160.6,167.2 L161.1,167.2 Q161.2,171.2 162.1,174.5 Z" fill="url(#L8)"/><path d="M156.7,174.9 Q157.8,171.6 157.9,167.5 L158.4,167.5 Q158.6,171.6 159.6,174.9 Z" fill="url(#L8)"/><path d="M155.9,175.0 Q156.9,171.6 157.0,167.4 L157.5,167.4 Q157.7,171.6 158.7,175.0 Z" fill="url(#L8)"/><path d="M151.2,175.5 Q152.2,171.9 152.3,167.4 L152.8,167.4 Q153.0,171.9 153.9,175.5 Z" fill="url(#L8)"/><path d="M153.5,175.6 Q154.1,170.5 154.1,164.3 L154.6,164.3 Q154.7,170.5 155.3,175.6 Z" fill="url(#L12)"/><path d="M152.3,175.8 Q153.1,170.7 153.2,164.4 L153.7,164.4 Q153.7,170.7 154.5,175.8 Z" fill="url(#L12)"/><polygon points="152.4,175.8 153.4,169.8 154.5,175.8" fill="#2B8CED"/><path d="M154.9,176.0 Q155.6,171.4 155.7,165.8 L156.2,165.8 Q156.3,171.4 157.0,176.0 Z" fill="url(#L10)"/><path d="M149.4,176.1 Q150.3,172.6 150.4,168.3 L150.9,168.3 Q151.0,172.6 151.8,176.1 Z" fill="url(#L8)"/><polygon points="150.9,176.2 152.2,172.2 153.5,176.2" fill="#2D7CE9"/><polygon points="149.6,176.3 150.7,170.9 151.8,176.3" fill="#2C89EC"/><path d="M152.9,176.3 Q153.5,169.9 153.5,162.2 L154.0,162.2 Q154.0,169.9 154.5,176.3 Z" fill="url(#L14)"/><path d="M155.8,176.6 Q156.6,170.6 156.7,163.2 L157.2,163.2 Q157.3,170.6 158.1,176.6 Z" fill="url(#L14)"/><path d="M152.9,177.0 Q153.6,171.2 153.6,164.2 L154.1,164.2 Q154.2,171.2 154.9,177.0 Z" fill="url(#L12)"/><path d="M147.8,177.4 Q148.8,171.6 149.0,164.5 L149.5,164.5 Q149.7,171.6 150.8,177.4 Z" fill="url(#L12)"/><polygon points="151.1,178.4 152.4,174.4 153.7,178.4" fill="#2D7CE8"/><path d="M152.5,178.6 Q153.5,173.4 153.7,166.9 L154.2,166.9 Q154.4,173.4 155.4,178.6 Z" fill="url(#L12)"/><polygon points="142.9,178.9 144.4,173.2 145.9,178.9" fill="#2B8BED"/><path d="M145.1,179.0 Q146.0,175.8 146.2,171.8 L146.7,171.8 Q146.8,175.8 147.8,179.0 Z" fill="url(#L8)"/><path d="M148.0,179.0 Q149.5,165.9 149.6,149.5 L150.2,113.5 L151.8,113.5 L152.4,149.5 Q152.5,165.9 154.0,179.0 Z" fill="url(#Lc14)"/><polygon points="149.7,179.3 150.9,174.4 152.1,179.3" fill="#2C85EC"/><polygon points="146.0,179.4 147.1,174.0 148.1,179.4" fill="#2C88EC"/><path d="M150.3,179.7 Q151.2,173.4 151.4,165.6 L151.9,165.6 Q152.1,173.4 153.0,179.7 Z" fill="url(#L14)"/><path d="M147.1,179.9 Q147.7,175.8 147.7,170.7 L148.2,170.7 Q148.2,175.8 148.8,179.9 Z" fill="url(#L10)"/><polygon points="143.6,180.1 145.0,173.9 146.3,180.1" fill="#2B8EED"/><path d="M151.2,180.4 Q152.0,174.3 152.1,166.8 L152.6,166.8 Q152.7,174.3 153.4,180.4 Z" fill="url(#L14)"/><polygon points="147.3,180.4 148.6,173.6 150.0,180.4" fill="#2B92ED"/><path d="M145.5,180.6 Q146.2,176.6 146.2,171.8 L146.7,171.8 Q146.8,176.6 147.4,180.6 Z" fill="url(#L8)"/><path d="M142.8,180.7 Q143.6,174.6 143.6,167.0 L144.1,167.0 Q144.2,174.6 144.9,180.7 Z" fill="url(#L14)"/><path d="M144.0,180.7 Q145.0,174.7 145.1,167.3 L145.6,167.3 Q145.8,174.7 146.8,180.7 Z" fill="url(#L14)"/><path d="M146.5,180.9 Q147.4,174.9 147.5,167.5 L148.0,167.5 Q148.2,174.9 149.1,180.9 Z" fill="url(#L14)"/><path d="M147.5,180.9 Q148.3,175.2 148.4,168.3 L148.9,168.3 Q149.0,175.2 149.7,180.9 Z" fill="url(#L12)"/><polygon points="145.2,181.0 146.5,174.4 147.8,181.0" fill="#2B90ED"/><path d="M142.5,181.0 Q143.3,174.0 143.4,165.4 L143.9,165.4 Q143.9,174.0 144.7,181.0 Z" fill="url(#L16)"/><path d="M145.9,181.3 Q146.9,176.3 147.1,170.3 L147.6,170.3 Q147.7,176.3 148.8,181.3 Z" fill="url(#L10)"/><path d="M142.5,181.3 Q143.5,177.4 143.7,172.7 L144.2,172.7 Q144.4,177.4 145.3,181.3 Z" fill="url(#L8)"/><path d="M149.8,181.4 Q150.4,175.6 150.4,168.4 L150.9,168.4 Q151.0,175.6 151.6,181.4 Z" fill="url(#L12)"/><path d="M141.6,181.5 Q142.5,174.9 142.6,166.8 L143.1,166.8 Q143.2,174.9 144.1,181.5 Z" fill="url(#L14)"/><polygon points="146.9,181.6 148.4,176.2 149.8,181.6" fill="#2C89EC"/><path d="M143.0,182.3 Q143.7,178.1 143.7,173.1 L144.2,173.1 Q144.3,178.1 145.0,182.3 Z" fill="url(#L10)"/><path d="M149.2,182.4 Q149.9,178.0 150.0,172.6 L150.5,172.6 Q150.6,178.0 151.3,182.4 Z" fill="url(#L10)"/><path d="M146.5,182.4 Q147.1,175.4 147.1,166.9 L147.6,166.9 Q147.6,175.4 148.1,182.4 Z" fill="url(#L16)"/><path d="M145.6,182.5 Q146.6,174.7 146.8,165.2 L147.3,165.2 Q147.5,174.7 148.5,182.5 Z" fill="url(#L18)"/><polygon points="141.9,182.7 143.2,176.5 144.6,182.7" fill="#2B8EED"/><polygon points="141.7,182.8 142.8,176.1 143.9,182.8" fill="#2B91ED"/><path d="M147.4,182.9 Q148.3,179.5 148.4,175.4 L148.9,175.4 Q149.1,179.5 150.0,182.9 Z" fill="url(#L8)"/><polygon points="144.1,183.7 145.3,178.3 146.5,183.7" fill="#2C88EC"/><path d="M139.8,183.9 Q140.7,177.2 140.8,169.1 L141.3,169.1 Q141.4,177.2 142.3,183.9 Z" fill="url(#L14)"/><path d="M145.1,184.0 Q145.8,179.3 145.8,173.7 L146.3,173.7 Q146.3,179.3 147.0,184.0 Z" fill="url(#L10)"/><path d="M144.3,184.0 Q144.9,180.2 144.9,175.5 L145.4,175.5 Q145.4,180.2 146.0,184.0 Z" fill="url(#L8)"/><polygon points="146.4,184.3 147.6,179.0 148.7,184.3" fill="#2C88EC"/><path d="M137.8,184.9 Q138.6,178.1 138.7,169.7 L139.2,169.7 Q139.3,178.1 140.0,184.9 Z" fill="url(#L16)"/><path d="M141.8,185.0 Q142.4,179.6 142.5,172.9 L143.0,172.9 Q143.0,179.6 143.6,185.0 Z" fill="url(#L12)"/><path d="M141.9,185.3 Q142.6,178.4 142.7,169.9 L143.2,169.9 Q143.2,178.4 143.9,185.3 Z" fill="url(#L16)"/><path d="M141.2,185.7 Q142.1,181.3 142.3,175.9 L142.8,175.9 Q143.0,181.3 144.0,185.7 Z" fill="url(#L10)"/><polygon points="134.0,185.8 135.3,180.9 136.7,185.8" fill="#2C85EC"/><polygon points="137.2,186.0 138.3,179.2 139.4,186.0" fill="#2B92ED"/><polygon points="139.1,186.1 140.3,180.3 141.5,186.1" fill="#2B8BED"/><path d="M139.4,186.3 Q140.0,182.4 140.0,177.7 L140.5,177.7 Q140.5,182.4 141.1,186.3 Z" fill="url(#L8)"/><polygon points="151.5,186.3 153.0,181.3 154.4,186.3" fill="#2C86EC"/><polygon points="135.2,186.9 136.4,182.5 137.6,186.9" fill="#2D80EA"/><polygon points="138.5,186.9 139.7,182.5 140.8,186.9" fill="#2D80EA"/><path d="M143.5,187.0 Q144.4,180.8 144.5,173.2 L145.0,173.2 Q145.2,180.8 146.1,187.0 Z" fill="url(#L14)"/><path d="M136.2,187.4 Q136.9,181.5 136.9,174.3 L137.4,174.3 Q137.4,181.5 138.1,187.4 Z" fill="url(#L14)"/><path d="M138.6,187.6 Q139.3,183.7 139.3,179.0 L139.8,179.0 Q139.8,183.7 140.4,187.6 Z" fill="url(#L8)"/><path d="M142.2,187.7 Q143.1,184.2 143.2,180.1 L143.7,180.1 Q143.9,184.2 144.8,187.7 Z" fill="url(#L8)"/><polygon points="134.0,187.9 134.8,182.2 135.6,187.9" fill="#2B8AED"/><polygon points="135.5,187.9 136.8,181.5 138.1,187.9" fill="#2B8FED"/><path d="M136.3,187.9 Q137.2,183.6 137.3,178.2 L137.8,178.2 Q137.9,183.6 138.8,187.9 Z" fill="url(#L10)"/><path d="M137.9,188.1 Q138.5,184.8 138.5,180.7 L139.0,180.7 Q139.1,184.8 139.7,188.1 Z" fill="url(#L8)"/><path d="M141.6,188.2 Q142.3,184.7 142.4,180.5 L142.9,180.5 Q143.0,184.7 143.7,188.2 Z" fill="url(#L8)"/><polygon points="134.9,188.3 136.1,184.2 137.3,188.3" fill="#2D7DE9"/><polygon points="136.1,188.8 137.2,183.3 138.2,188.8" fill="#2C89EC"/><polygon points="140.4,189.1 141.3,184.5 142.2,189.1" fill="#2C83EB"/><path d="M140.4,189.5 Q141.0,186.4 141.0,182.5 L141.5,182.5 Q141.5,186.4 142.1,189.5 Z" fill="url(#L8)"/><path d="M132.9,189.9 Q133.8,186.7 134.0,182.8 L134.5,182.8 Q134.6,186.7 135.6,189.9 Z" fill="url(#L8)"/><path d="M136.4,190.3 Q137.1,183.9 137.2,176.1 L137.7,176.1 Q137.7,183.9 138.5,190.3 Z" fill="url(#L14)"/><path d="M135.7,190.6 Q136.6,184.0 136.7,175.9 L137.2,175.9 Q137.4,184.0 138.3,190.6 Z" fill="url(#L14)"/><path d="M133.5,190.7 Q134.2,185.0 134.2,177.9 L134.7,177.9 Q134.7,185.0 135.4,190.7 Z" fill="url(#L12)"/><polygon points="134.1,191.4 135.3,187.1 136.5,191.4" fill="#2D80EA"/><path d="M135.1,191.9 Q136.1,185.7 136.2,178.2 L136.7,178.2 Q136.9,185.7 137.9,191.9 Z" fill="url(#L14)"/><path d="M135.8,192.3 Q136.8,187.5 137.0,181.5 L137.5,181.5 Q137.6,187.5 138.6,192.3 Z" fill="url(#L10)"/><path d="M132.7,192.7 Q133.7,188.6 133.9,183.5 L134.4,183.5 Q134.5,188.6 135.5,192.7 Z" fill="url(#L10)"/><polygon points="133.4,192.9 134.8,186.8 136.2,192.9" fill="#2B8DED"/><path d="M131.0,193.0 Q132.4,179.3 132.4,162.2 L133.1,124.6 L134.6,124.6 L135.2,162.2 Q135.2,179.3 136.6,193.0 Z" fill="url(#Lc15)"/></g>
<text x="21.2" y="14.1" font-family='"Liberation Sans", Arial, sans-serif' font-size="11.25" font-weight="bold" fill="#000">Dry Drill String 3D-Wavelet Power Spectral</text>
<text transform="translate(23.1 86.4) scale(0.9 1)" font-family='"Liberation Sans", Arial, sans-serif' font-size="8.6" fill="#3a3a3a" text-anchor="end">2</text>
<text transform="translate(24.2 121.3) scale(0.9 1)" font-family='"Liberation Sans", Arial, sans-serif' font-size="8.6" fill="#3a3a3a" text-anchor="end">1</text>
<text transform="translate(23.8 155.0) scale(0.9 1)" font-family='"Liberation Sans", Arial, sans-serif' font-size="8.6" fill="#3a3a3a" text-anchor="end">0</text>
<text transform="translate(6.9 75.2) scale(0.9 1)" font-family='"Liberation Sans", Arial, sans-serif' font-size="8.8" fill="#3a3a3a">×10<tspan dy="-4.6" font-size="6.6">-5</tspan></text>
<text transform="translate(13.9 158.0) scale(0.97 1) rotate(-90)" font-family='"Liberation Sans", Arial, sans-serif' font-size="9.15" fill="#3a3a3a" text-anchor="start">Power Spectral(dB)</text>
<text transform="translate(17.8 166.9) scale(0.9 1)" font-family='"Liberation Sans", Arial, sans-serif' font-size="8.6" fill="#3a3a3a" text-anchor="middle">300</text>
<text transform="translate(58.7 183.0) scale(0.9 1)" font-family='"Liberation Sans", Arial, sans-serif' font-size="8.6" fill="#3a3a3a" text-anchor="middle">200</text>
<text transform="translate(99.3 199.0) scale(0.9 1)" font-family='"Liberation Sans", Arial, sans-serif' font-size="8.6" fill="#3a3a3a" text-anchor="middle">100</text>
<text transform="translate(144.9 214.6) scale(0.9 1)" font-family='"Liberation Sans", Arial, sans-serif' font-size="8.6" fill="#3a3a3a" text-anchor="middle">0</text>
<text transform="translate(159.6 212.6) scale(0.9 1)" font-family='"Liberation Sans", Arial, sans-serif' font-size="8.6" fill="#3a3a3a" text-anchor="middle">0</text>
<text transform="translate(179.1 200.1) scale(0.9 1)" font-family='"Liberation Sans", Arial, sans-serif' font-size="8.6" fill="#3a3a3a" text-anchor="middle">10</text>
<text transform="translate(196.6 186.0) scale(0.9 1)" font-family='"Liberation Sans", Arial, sans-serif' font-size="8.6" fill="#3a3a3a" text-anchor="middle">20</text>
<text transform="translate(213.8 173.0) scale(0.9 1)" font-family='"Liberation Sans", Arial, sans-serif' font-size="8.6" fill="#3a3a3a" text-anchor="middle">30</text>
<text transform="translate(232.0 158.2) scale(0.9 1)" font-family='"Liberation Sans", Arial, sans-serif' font-size="8.6" fill="#3a3a3a" text-anchor="middle">40</text>
<text transform="translate(249.2 144.7) scale(0.9 1)" font-family='"Liberation Sans", Arial, sans-serif' font-size="8.6" fill="#3a3a3a" text-anchor="middle">50</text>
<text x="30.4" y="189.6" font-family='"Liberation Serif", "Times New Roman", serif' font-size="10.85" font-weight="bold" font-style="italic" fill="#111" text-anchor="start" transform="rotate(24.3 30.4 189.6)" >Frequency (Hz)</text>
<text x="209.4" y="193.0" font-family='"Liberation Serif", "Times New Roman", serif' font-size="10.5" font-weight="bold" font-style="normal" fill="#111" text-anchor="start" transform="rotate(-38 209.4 193.0)" >Time (s)</text>
<text x="128.4" y="220.7" font-family='"Liberation Serif", "Times New Roman", serif' font-size="12.2" font-weight="bold" font-style="normal" fill="#111" text-anchor="middle" >(a)</text>
<text x="129.7" y="237.6" font-family='"Liberation Serif", "Times New Roman", serif' font-size="10.8" font-weight="bold" font-style="normal" fill="#111" text-anchor="middle" >(a)</text>
<line x1="322.0" y1="97.5" x2="456.9" y2="55.3" stroke="#E3E3E3" stroke-width="0.65"/>
<line x1="456.9" y1="55.3" x2="526.1" y2="137.8" stroke="#E3E3E3" stroke-width="0.65"/>
<line x1="322.0" y1="75.9" x2="456.9" y2="36.4" stroke="#E3E3E3" stroke-width="0.65"/>
<line x1="456.9" y1="36.4" x2="526.1" y2="117.4" stroke="#E3E3E3" stroke-width="0.65"/>
<line x1="322.0" y1="58.2" x2="456.9" y2="17.8" stroke="#F0F0F0" stroke-width="0.65"/>
<line x1="456.9" y1="17.8" x2="526.1" y2="95.8" stroke="#F0F0F0" stroke-width="0.65"/>
<line x1="349.0" y1="110.7" x2="349.0" y2="50.1" stroke="#E3E3E3" stroke-width="0.65"/>
<line x1="376.0" y1="102.3" x2="376.0" y2="42.0" stroke="#E3E3E3" stroke-width="0.65"/>
<line x1="402.9" y1="93.8" x2="402.9" y2="34.0" stroke="#E3E3E3" stroke-width="0.65"/>
<line x1="429.9" y1="85.4" x2="429.9" y2="25.9" stroke="#E3E3E3" stroke-width="0.65"/>
<line x1="456.9" y1="77.0" x2="456.9" y2="17.8" stroke="#E3E3E3" stroke-width="0.65"/>
<line x1="480.0" y1="105.3" x2="480.0" y2="43.8" stroke="#E3E3E3" stroke-width="0.65"/>
<line x1="503.0" y1="133.5" x2="503.0" y2="69.8" stroke="#E3E3E3" stroke-width="0.65"/>
<line x1="526.1" y1="161.8" x2="526.1" y2="95.8" stroke="#E3E3E3" stroke-width="0.65"/>
<polygon points="322.0,119.1 392.7,204.0 526.1,161.8 456.9,77.0" fill="#3E26A8"/>
<line x1="322.0" y1="119.1" x2="322.0" y2="58.2" stroke="#6a6a6a" stroke-width="0.65"/>
<line x1="322.0" y1="119.1" x2="392.7" y2="204.0" stroke="#555555" stroke-width="0.6"/>
<line x1="392.7" y1="204.0" x2="526.1" y2="161.8" stroke="#555555" stroke-width="0.6"/>
<line x1="322.0" y1="119.1" x2="319.8" y2="117.5" stroke="#555555" stroke-width="0.7"/>
<line x1="322.0" y1="97.3" x2="319.8" y2="95.7" stroke="#555555" stroke-width="0.7"/>
<line x1="322.0" y1="75.9" x2="319.8" y2="74.3" stroke="#555555" stroke-width="0.7"/>
<line x1="392.7" y1="204.0" x2="390.1" y2="204.8" stroke="#555555" stroke-width="0.7"/>
<line x1="369.1" y1="175.7" x2="366.5" y2="176.5" stroke="#555555" stroke-width="0.7"/>
<line x1="345.6" y1="147.4" x2="343.0" y2="148.2" stroke="#555555" stroke-width="0.7"/>
<line x1="322.0" y1="119.1" x2="319.4" y2="119.9" stroke="#555555" stroke-width="0.7"/>
<line x1="392.7" y1="204.0" x2="394.3" y2="206.4" stroke="#555555" stroke-width="0.7"/>
<line x1="419.4" y1="195.6" x2="421.0" y2="198.0" stroke="#555555" stroke-width="0.7"/>
<line x1="446.1" y1="187.1" x2="447.7" y2="189.5" stroke="#555555" stroke-width="0.7"/>
<line x1="472.7" y1="178.7" x2="474.3" y2="181.1" stroke="#555555" stroke-width="0.7"/>
<line x1="499.4" y1="170.2" x2="501.0" y2="172.6" stroke="#555555" stroke-width="0.7"/>
<line x1="526.1" y1="161.8" x2="527.7" y2="164.2" stroke="#555555" stroke-width="0.7"/>
<defs><linearGradient id="Rc0" x1="0" y1="1" x2="0" y2="0"><stop offset="0.00" stop-color="#3282E6"/><stop offset="0.10" stop-color="#28B4F2"/><stop offset="0.70" stop-color="#2CCDF0"/><stop offset="0.86" stop-color="#46D2B4"/><stop offset="1.00" stop-color="#82D28C"/></linearGradient><linearGradient id="R12" x1="0" y1="1" x2="0" y2="0"><stop offset="0.00" stop-color="#3254DA"/><stop offset="0.50" stop-color="#299BEF"/><stop offset="1.00" stop-color="#25BEF1"/></linearGradient><linearGradient id="R10" x1="0" y1="1" x2="0" y2="0"><stop offset="0.00" stop-color="#3254DA"/><stop offset="0.50" stop-color="#2A92EE"/><stop offset="1.00" stop-color="#26B9F2"/></linearGradient><linearGradient id="R14" x1="0" y1="1" x2="0" y2="0"><stop offset="0.00" stop-color="#3254DA"/><stop offset="0.50" stop-color="#28A4F0"/><stop offset="1.00" stop-color="#24C4F1"/></linearGradient><linearGradient id="R8" x1="0" y1="1" x2="0" y2="0"><stop offset="0.00" stop-color="#3254DA"/><stop offset="0.50" stop-color="#2C89EC"/><stop offset="1.00" stop-color="#27ACF1"/></linearGradient><linearGradient id="R16" x1="0" y1="1" x2="0" y2="0"><stop offset="0.00" stop-color="#3254DA"/><stop offset="0.50" stop-color="#27ACF1"/><stop offset="1.00" stop-color="#23CAF0"/></linearGradient><linearGradient id="R26" x1="0" y1="1" x2="0" y2="0"><stop offset="0.00" stop-color="#3254DA"/><stop offset="0.25" stop-color="#299FEF"/><stop offset="0.50" stop-color="#24C1F1"/><stop offset="0.75" stop-color="#23D1EF"/><stop offset="1.00" stop-color="#26D5EB"/></linearGradient><linearGradient id="R30" x1="0" y1="1" x2="0" y2="0"><stop offset="0.00" stop-color="#3254DA"/><stop offset="0.20" stop-color="#299BEF"/><stop offset="0.40" stop-color="#25BEF1"/><stop offset="0.60" stop-color="#22CFF0"/><stop offset="0.80" stop-color="#25D4EC"/><stop offset="1.00" stop-color="#28D8E8"/></linearGradient><linearGradient id="R20" x1="0" y1="1" x2="0" y2="0"><stop offset="0.00" stop-color="#3254DA"/><stop offset="0.33" stop-color="#29A1EF"/><stop offset="0.67" stop-color="#24C2F1"/><stop offset="1.00" stop-color="#23D1EF"/></linearGradient><linearGradient id="R18" x1="0" y1="1" x2="0" y2="0"><stop offset="0.00" stop-color="#3254DA"/><stop offset="0.33" stop-color="#299BEF"/><stop offset="0.67" stop-color="#25BEF1"/><stop offset="1.00" stop-color="#22CFF0"/></linearGradient><linearGradient id="R28" x1="0" y1="1" x2="0" y2="0"><stop offset="0.00" stop-color="#3254DA"/><stop offset="0.25" stop-color="#28A4F0"/><stop offset="0.50" stop-color="#24C4F1"/><stop offset="0.75" stop-color="#23D2EE"/><stop offset="1.00" stop-color="#27D7E9"/></linearGradient><linearGradient id="Rc11" x1="0" y1="1" x2="0" y2="0"><stop offset="0.00" stop-color="#3282E6"/><stop offset="0.10" stop-color="#28B4F2"/><stop offset="0.42" stop-color="#2CCDF0"/><stop offset="0.55" stop-color="#5AD2AA"/><stop offset="0.66" stop-color="#BED25A"/><stop offset="0.76" stop-color="#F5C846"/><stop offset="0.88" stop-color="#F5A03C"/><stop offset="1.00" stop-color="#E6A064"/></linearGradient><linearGradient id="R22" x1="0" y1="1" x2="0" y2="0"><stop offset="0.00" stop-color="#3254DA"/><stop offset="0.33" stop-color="#28A7F0"/><stop offset="0.67" stop-color="#24C6F1"/><stop offset="1.00" stop-color="#24D3ED"/></linearGradient><filter id="Rb" x="-5%" y="-5%" width="110%" height="110%"><feGaussianBlur stdDeviation="0.35"/></filter></defs>
<g filter="url(#Rb)"><polygon points="507.4,142.2 508.5,141.0 509.5,142.2" fill="#3061DF"/><polygon points="502.1,145.1 502.9,141.3 503.7,145.1" fill="#2D7EE9"/><polygon points="495.3,149.8 496.3,148.1 497.4,149.8" fill="#3067E1"/><polygon points="496.8,150.0 497.9,148.1 498.9,150.0" fill="#2F69E2"/><polygon points="492.9,150.1 493.8,147.7 494.6,150.1" fill="#2F6EE3"/><polygon points="510.8,150.1 511.6,147.4 512.3,150.1" fill="#2E72E5"/><polygon points="504.2,151.5 505.2,149.7 506.3,151.5" fill="#3068E1"/><polygon points="492.3,151.9 493.5,146.1 494.6,151.9" fill="#2B8FED"/><polygon points="515.6,151.9 516.6,149.4 517.6,151.9" fill="#2F70E4"/><polygon points="494.3,152.0 495.3,148.3 496.2,152.0" fill="#2D7DE9"/><polygon points="512.4,152.4 513.3,145.7 514.3,152.4" fill="#2A95EE"/><polygon points="500.0,152.8 501.1,151.0 502.1,152.8" fill="#3068E1"/><polygon points="514.0,153.0 515.1,150.4 516.1,153.0" fill="#2F71E4"/><path d="M516.4,153.5 Q517.5,145.0 517.1,134.4 L517.9,111.0 L519.4,111.0 L520.1,134.4 Q519.7,145.0 520.8,153.5 Z" fill="url(#Rc0)"/><polygon points="511.5,153.5 512.5,150.8 513.5,153.5" fill="#2E72E5"/><polygon points="516.8,153.8 517.5,151.4 518.3,153.8" fill="#2F6EE3"/><polygon points="510.9,154.2 511.7,151.6 512.6,154.2" fill="#2E71E5"/><polygon points="515.9,154.4 516.7,150.2 517.5,154.4" fill="#2C83EB"/><polygon points="514.6,154.4 515.8,147.8 516.9,154.4" fill="#2A95EE"/><polygon points="468.1,154.4 469.2,151.9 470.3,154.4" fill="#2F70E4"/><polygon points="508.9,154.5 509.7,150.0 510.4,154.5" fill="#2C85EC"/><polygon points="505.9,154.6 506.6,149.7 507.3,154.6" fill="#2C89EC"/><polygon points="516.9,154.7 518.0,152.4 519.0,154.7" fill="#2F6DE3"/><polygon points="515.4,155.2 516.3,152.4 517.2,155.2" fill="#2E73E5"/><path d="M513.9,155.3 Q514.7,150.3 514.8,144.3 L515.3,144.3 Q515.4,150.3 516.2,155.3 Z" fill="url(#R12)"/><polygon points="516.5,155.5 517.4,152.6 518.3,155.5" fill="#2E75E6"/><polygon points="507.4,155.6 508.4,152.5 509.4,155.6" fill="#2E76E6"/><polygon points="508.2,155.8 509.0,152.2 509.9,155.8" fill="#2D7BE8"/><polygon points="516.2,156.0 517.2,153.6 518.1,156.0" fill="#2F6EE3"/><polygon points="505.9,156.1 506.9,150.2 507.9,156.1" fill="#2B8FED"/><polygon points="504.6,156.1 505.4,153.2 506.3,156.1" fill="#2E74E6"/><polygon points="501.4,156.3 502.3,152.7 503.2,156.3" fill="#2D7CE8"/><polygon points="509.5,156.4 510.6,153.4 511.7,156.4" fill="#2E75E6"/><polygon points="493.1,156.4 494.1,153.4 495.0,156.4" fill="#2E75E6"/><polygon points="512.3,156.5 513.0,151.9 513.8,156.5" fill="#2C86EC"/><polygon points="473.5,156.5 474.4,153.4 475.3,156.5" fill="#2E76E6"/><path d="M500.2,156.6 Q500.8,151.5 500.8,145.3 L501.3,145.3 Q501.3,151.5 501.9,156.6 Z" fill="url(#R12)"/><polygon points="501.7,157.0 502.5,150.5 503.3,157.0" fill="#2A94EE"/><polygon points="502.9,157.0 503.6,151.3 504.4,157.0" fill="#2B8EED"/><polygon points="489.0,157.1 490.1,153.0 491.2,157.1" fill="#2D81EA"/><polygon points="504.3,157.7 505.2,154.2 506.1,157.7" fill="#2D7AE8"/><polygon points="505.1,157.9 506.0,151.3 506.9,157.9" fill="#2A95EE"/><polygon points="494.7,157.9 495.8,154.2 496.8,157.9" fill="#2D7DE9"/><polygon points="496.2,158.0 497.3,153.6 498.3,158.0" fill="#2C85EC"/><path d="M501.0,158.0 Q501.5,153.7 501.5,148.3 L502.0,148.3 Q502.0,153.7 502.5,158.0 Z" fill="url(#R10)"/><path d="M499.1,158.1 Q499.7,151.4 499.7,143.2 L500.2,143.2 Q500.2,151.4 500.7,158.1 Z" fill="url(#R14)"/><path d="M496.5,158.2 Q497.2,154.9 497.2,150.8 L497.7,150.8 Q497.8,154.9 498.5,158.2 Z" fill="url(#R8)"/><polygon points="474.8,158.4 475.8,157.2 476.7,158.4" fill="#3062DF"/><path d="M502.1,158.6 Q502.7,152.3 502.6,144.7 L503.1,144.7 Q503.1,152.3 503.6,158.6 Z" fill="url(#R14)"/><polygon points="495.3,158.8 496.1,154.9 496.9,158.8" fill="#2D7FEA"/><polygon points="492.7,159.2 493.5,154.9 494.4,159.2" fill="#2C84EB"/><polygon points="505.0,159.4 506.1,156.2 507.2,159.4" fill="#2E77E6"/><polygon points="452.9,159.5 454.0,157.8 455.1,159.5" fill="#3066E0"/><polygon points="505.0,159.5 505.9,155.5 506.7,159.5" fill="#2D80EA"/><polygon points="515.3,159.6 516.1,157.0 516.9,159.6" fill="#2F70E4"/><polygon points="492.3,159.7 493.4,155.8 494.6,159.7" fill="#2D7EE9"/><path d="M490.1,159.7 Q490.7,156.0 490.7,151.6 L491.2,151.6 Q491.2,156.0 491.7,159.7 Z" fill="url(#R8)"/><path d="M497.4,159.7 Q498.5,152.6 498.8,144.0 L499.2,144.0 Q499.5,152.6 500.6,159.7 Z" fill="url(#R16)"/><path d="M488.8,160.4 Q489.6,154.5 489.6,147.2 L490.1,147.2 Q490.2,154.5 490.9,160.4 Z" fill="url(#R14)"/><path d="M496.1,160.8 Q496.9,157.5 497.0,153.4 L497.5,153.4 Q497.6,157.5 498.4,160.8 Z" fill="url(#R8)"/><polygon points="495.7,161.0 496.6,157.0 497.5,161.0" fill="#2D80EA"/><polygon points="488.5,161.1 489.6,157.6 490.7,161.1" fill="#2D7BE8"/><path d="M492.4,161.2 Q493.7,149.4 493.9,135.0 L494.4,135.0 Q494.7,149.4 496.0,161.2 Z" fill="url(#R26)"/><path d="M491.5,161.3 Q492.2,155.6 492.2,148.6 L492.7,148.6 Q492.8,155.6 493.5,161.3 Z" fill="url(#R12)"/><polygon points="489.6,161.4 490.6,155.6 491.5,161.4" fill="#2B8FED"/><polygon points="451.1,161.5 451.9,159.5 452.8,161.5" fill="#2F69E2"/><polygon points="498.9,161.5 499.7,157.4 500.5,161.5" fill="#2D81EA"/><path d="M498.9,161.5 Q499.4,157.7 499.4,153.1 L499.9,153.1 Q499.9,157.7 500.5,161.5 Z" fill="url(#R8)"/><polygon points="485.9,161.6 487.0,157.9 488.2,161.6" fill="#2D7DE9"/><path d="M490.1,161.7 Q490.6,157.9 490.6,153.2 L491.1,153.2 Q491.1,157.9 491.6,161.7 Z" fill="url(#R8)"/><path d="M483.0,161.9 Q483.5,156.9 483.5,150.8 L484.0,150.8 Q484.0,156.9 484.5,161.9 Z" fill="url(#R12)"/><path d="M486.0,161.9 Q486.7,157.7 486.8,152.5 L487.3,152.5 Q487.3,157.7 488.0,161.9 Z" fill="url(#R10)"/><path d="M493.7,161.9 Q494.4,157.7 494.4,152.5 L494.9,152.5 Q494.9,157.7 495.5,161.9 Z" fill="url(#R10)"/><polygon points="495.4,162.0 496.2,156.6 497.0,162.0" fill="#2B8CED"/><polygon points="487.6,162.1 488.4,158.6 489.2,162.1" fill="#2D7BE8"/><polygon points="491.9,162.3 493.0,158.4 494.1,162.3" fill="#2D7FEA"/><polygon points="494.5,162.4 495.5,158.6 496.6,162.4" fill="#2D7DE9"/><path d="M491.4,162.4 Q492.1,158.8 492.2,154.5 L492.7,154.5 Q492.7,158.8 493.5,162.4 Z" fill="url(#R8)"/><path d="M488.9,162.6 Q489.4,155.2 489.4,146.1 L489.9,146.1 Q489.9,155.2 490.4,162.6 Z" fill="url(#R16)"/><polygon points="493.4,162.8 494.2,157.2 495.1,162.8" fill="#2B8EED"/><polygon points="486.1,162.9 486.9,158.9 487.7,162.9" fill="#2D81EA"/><path d="M486.2,163.2 Q486.9,159.5 486.9,155.1 L487.4,155.1 Q487.5,159.5 488.1,163.2 Z" fill="url(#R8)"/><polygon points="488.6,163.2 489.7,157.2 490.7,163.2" fill="#2B90ED"/><path d="M483.1,163.2 Q483.9,158.5 484.0,152.7 L484.5,152.7 Q484.6,158.5 485.4,163.2 Z" fill="url(#R10)"/><path d="M489.5,163.3 Q490.1,156.3 490.1,147.7 L490.6,147.7 Q490.6,156.3 491.2,163.3 Z" fill="url(#R16)"/><polygon points="479.1,163.4 479.8,160.1 480.6,163.4" fill="#2E78E7"/><polygon points="483.6,163.4 484.6,159.6 485.7,163.4" fill="#2D7EE9"/><path d="M489.8,163.5 Q490.5,158.7 490.6,152.7 L491.1,152.7 Q491.2,158.7 491.9,163.5 Z" fill="url(#R10)"/><polygon points="485.1,163.5 485.9,160.1 486.6,163.5" fill="#2D7AE8"/><polygon points="486.3,163.9 487.4,160.4 488.4,163.9" fill="#2D7BE8"/><path d="M487.9,164.0 Q488.5,159.4 488.4,153.7 L488.9,153.7 Q488.9,159.4 489.4,164.0 Z" fill="url(#R10)"/><polygon points="481.5,164.1 482.5,160.8 483.5,164.1" fill="#2E79E7"/><path d="M483.8,164.2 Q484.3,159.0 484.3,152.6 L484.8,152.6 Q484.8,159.0 485.3,164.2 Z" fill="url(#R12)"/><path d="M489.6,164.2 Q490.3,161.0 490.3,157.1 L490.8,157.1 Q490.9,161.0 491.6,164.2 Z" fill="url(#R8)"/><polygon points="464.4,164.2 465.2,161.0 466.1,164.2" fill="#2E78E7"/><path d="M490.5,164.3 Q491.0,157.4 490.9,149.1 L491.4,149.1 Q491.4,157.4 491.9,164.3 Z" fill="url(#R16)"/><polygon points="487.8,164.3 488.6,160.7 489.4,164.3" fill="#2D7CE8"/><polygon points="484.2,164.4 485.1,160.9 486.1,164.4" fill="#2D7AE8"/><polygon points="479.3,164.4 480.2,161.2 481.1,164.4" fill="#2E77E7"/><polygon points="475.2,164.5 476.2,159.6 477.3,164.5" fill="#2C88EC"/><polygon points="474.2,164.5 475.0,161.4 475.8,164.5" fill="#2E76E6"/><polygon points="460.1,164.7 461.2,163.6 462.3,164.7" fill="#3160DE"/><path d="M479.9,164.9 Q480.7,158.9 480.7,151.6 L481.2,151.6 Q481.3,158.9 482.0,164.9 Z" fill="url(#R14)"/><path d="M483.4,164.9 Q484.0,160.2 484.0,154.5 L484.5,154.5 Q484.4,160.2 485.0,164.9 Z" fill="url(#R10)"/><path d="M480.5,165.1 Q481.6,158.3 481.8,150.0 L482.2,150.0 Q482.4,158.3 483.5,165.1 Z" fill="url(#R16)"/><path d="M481.8,165.6 Q482.4,160.7 482.5,154.8 L483.0,154.8 Q483.0,160.7 483.7,165.6 Z" fill="url(#R10)"/><path d="M485.0,165.6 Q485.7,161.7 485.7,156.9 L486.2,156.9 Q486.3,161.7 486.9,165.6 Z" fill="url(#R8)"/><polygon points="478.8,165.7 479.7,161.6 480.5,165.7" fill="#2D82EA"/><polygon points="497.8,166.1 498.7,164.3 499.6,166.1" fill="#3068E1"/><path d="M474.4,166.3 Q475.0,162.0 475.0,156.8 L475.5,156.8 Q475.5,162.0 476.1,166.3 Z" fill="url(#R10)"/><path d="M472.7,166.4 Q473.4,161.5 473.5,155.4 L474.0,155.4 Q474.1,161.5 474.9,166.4 Z" fill="url(#R10)"/><polygon points="474.4,166.5 475.4,163.4 476.4,166.5" fill="#2E75E6"/><polygon points="478.1,166.5 478.9,161.8 479.7,166.5" fill="#2C87EC"/><polygon points="468.7,166.6 469.6,163.8 470.5,166.6" fill="#2E73E5"/><path d="M478.5,166.7 Q479.2,160.0 479.2,151.9 L479.7,151.9 Q479.8,160.0 480.4,166.7 Z" fill="url(#R14)"/><path d="M479.1,166.7 Q479.7,160.7 479.7,153.4 L480.2,153.4 Q480.2,160.7 480.8,166.7 Z" fill="url(#R14)"/><polygon points="476.3,166.8 477.3,163.7 478.4,166.8" fill="#2E77E6"/><polygon points="469.5,167.7 470.4,164.9 471.2,167.7" fill="#2E73E5"/><polygon points="468.1,167.9 469.2,164.2 470.3,167.9" fill="#2D7CE9"/><polygon points="468.6,168.5 469.4,163.8 470.2,168.5" fill="#2C87EC"/><polygon points="465.9,168.5 466.9,163.1 467.8,168.5" fill="#2B8CED"/><polygon points="459.6,168.5 460.6,167.0 461.5,168.5" fill="#3064E0"/><path d="M468.5,168.9 Q469.6,161.3 469.8,152.0 L470.2,152.0 Q470.4,161.3 471.5,168.9 Z" fill="url(#R16)"/><polygon points="462.6,169.0 463.7,166.0 464.8,169.0" fill="#2E75E6"/><path d="M460.3,169.3 Q461.0,164.9 461.1,159.6 L461.6,159.6 Q461.6,164.9 462.3,169.3 Z" fill="url(#R10)"/><polygon points="469.6,169.3 470.4,165.7 471.1,169.3" fill="#2D7BE8"/><polygon points="468.0,169.4 469.1,166.4 470.1,169.4" fill="#2E75E6"/><polygon points="469.9,169.5 470.8,166.6 471.6,169.5" fill="#2E73E5"/><polygon points="472.4,169.5 473.4,165.9 474.4,169.5" fill="#2D7BE8"/><path d="M463.5,169.5 Q464.2,164.8 464.3,159.1 L464.8,159.1 Q464.8,164.8 465.5,169.5 Z" fill="url(#R10)"/><polygon points="470.1,169.8 470.8,165.9 471.5,169.8" fill="#2D7EE9"/><path d="M461.5,169.9 Q462.1,165.7 462.2,160.6 L462.7,160.6 Q462.7,165.7 463.3,169.9 Z" fill="url(#R10)"/><polygon points="459.3,170.2 460.2,165.1 461.1,170.2" fill="#2B8AED"/><polygon points="467.4,170.3 468.3,164.9 469.3,170.3" fill="#2B8CED"/><polygon points="460.2,170.3 461.1,166.1 462.0,170.3" fill="#2C82EB"/><polygon points="459.7,170.4 460.8,165.6 461.8,170.4" fill="#2C88EC"/><polygon points="470.0,170.5 471.0,167.3 472.0,170.5" fill="#2E77E7"/><path d="M468.2,170.7 Q468.7,164.8 468.6,157.7 L469.1,157.7 Q469.1,164.8 469.6,170.7 Z" fill="url(#R12)"/><polygon points="471.5,170.8 472.6,166.1 473.6,170.8" fill="#2C87EC"/><polygon points="454.9,170.9 455.8,167.4 456.8,170.9" fill="#2D7AE8"/><path d="M454.9,171.1 Q455.4,164.8 455.4,157.0 L455.9,157.0 Q455.8,164.8 456.3,171.1 Z" fill="url(#R14)"/><path d="M466.5,171.1 Q467.2,166.0 467.2,159.6 L467.7,159.6 Q467.8,166.0 468.5,171.1 Z" fill="url(#R12)"/><path d="M460.6,171.2 Q461.2,167.8 461.2,163.7 L461.7,163.7 Q461.7,167.8 462.2,171.2 Z" fill="url(#R8)"/><polygon points="455.1,171.2 456.0,167.0 456.8,171.2" fill="#2C83EB"/><polygon points="464.0,171.2 464.8,168.5 465.5,171.2" fill="#2E72E5"/><polygon points="452.6,171.5 453.3,167.7 454.1,171.5" fill="#2D7EE9"/><polygon points="464.7,171.6 465.6,168.7 466.5,171.6" fill="#2E74E6"/><polygon points="461.4,171.7 462.5,166.3 463.5,171.7" fill="#2B8CED"/><polygon points="476.9,171.8 477.9,168.6 478.9,171.8" fill="#2E77E7"/><polygon points="462.6,171.8 463.8,167.8 464.9,171.8" fill="#2D80EA"/><path d="M451.2,172.0 Q451.9,166.5 452.0,159.7 L452.5,159.7 Q452.6,166.5 453.3,172.0 Z" fill="url(#R12)"/><path d="M464.3,172.2 Q465.1,166.7 465.1,159.9 L465.6,159.9 Q465.7,166.7 466.5,172.2 Z" fill="url(#R12)"/><polygon points="444.1,172.4 445.0,169.0 445.9,172.4" fill="#2D7AE8"/><path d="M457.3,172.4 Q458.0,168.0 458.0,162.6 L458.5,162.6 Q458.6,168.0 459.2,172.4 Z" fill="url(#R10)"/><polygon points="457.9,172.5 459.0,169.2 460.2,172.5" fill="#2E78E7"/><polygon points="457.5,172.5 458.6,169.6 459.6,172.5" fill="#2E74E5"/><path d="M459.0,172.5 Q459.7,168.9 459.7,164.5 L460.2,164.5 Q460.2,168.9 460.9,172.5 Z" fill="url(#R8)"/><polygon points="461.6,172.6 462.7,169.9 463.8,172.6" fill="#2E72E5"/><polygon points="448.8,172.7 449.9,167.5 451.0,172.7" fill="#2B8BED"/><path d="M452.6,172.8 Q453.4,169.0 453.5,164.3 L454.0,164.3 Q454.1,169.0 454.9,172.8 Z" fill="url(#R8)"/><polygon points="458.5,172.9 459.3,170.0 460.2,172.9" fill="#2E73E5"/><polygon points="461.7,173.0 462.5,167.3 463.3,173.0" fill="#2B8EED"/><polygon points="453.0,173.1 453.9,169.9 454.9,173.1" fill="#2E77E7"/><polygon points="456.4,173.2 457.2,169.9 458.0,173.2" fill="#2E78E7"/><polygon points="451.6,173.3 452.7,169.2 453.7,173.3" fill="#2D81EA"/><polygon points="459.8,173.6 460.6,170.0 461.4,173.6" fill="#2D7BE8"/><path d="M451.3,174.2 Q452.5,162.4 452.8,148.0 L453.2,148.0 Q453.5,162.4 454.7,174.2 Z" fill="url(#R26)"/><polygon points="445.2,174.4 446.2,170.9 447.1,174.4" fill="#2D7AE8"/><path d="M446.5,174.5 Q447.1,168.9 447.1,162.1 L447.6,162.1 Q447.6,168.9 448.2,174.5 Z" fill="url(#R12)"/><polygon points="454.9,174.6 455.9,171.6 456.9,174.6" fill="#2E75E6"/><path d="M452.9,175.4 Q453.4,171.5 453.4,166.8 L453.9,166.8 Q453.9,171.5 454.4,175.4 Z" fill="url(#R8)"/><polygon points="434.9,175.4 436.0,172.1 437.2,175.4" fill="#2E78E7"/><polygon points="445.2,175.5 446.0,172.0 446.8,175.5" fill="#2D7AE8"/><polygon points="451.0,175.9 451.8,171.5 452.7,175.9" fill="#2C84EB"/><path d="M445.8,176.0 Q446.9,162.5 447.2,146.0 L447.8,146.0 Q448.1,162.5 449.2,176.0 Z" fill="url(#R30)"/><polygon points="442.1,176.2 442.9,169.8 443.7,176.2" fill="#2A93EE"/><polygon points="445.9,176.3 447.0,171.5 448.1,176.3" fill="#2C88EC"/><polygon points="441.9,176.3 442.7,173.0 443.5,176.3" fill="#2E79E7"/><polygon points="437.8,176.4 438.9,172.4 439.9,176.4" fill="#2D7FEA"/><polygon points="438.3,176.7 439.2,173.3 440.0,176.7" fill="#2D7AE8"/><path d="M435.2,176.8 Q435.8,169.7 435.8,161.0 L436.3,161.0 Q436.3,169.7 436.9,176.8 Z" fill="url(#R16)"/><path d="M438.8,176.9 Q439.4,172.4 439.4,167.0 L439.9,167.0 Q439.9,172.4 440.4,176.9 Z" fill="url(#R10)"/><path d="M436.4,176.9 Q437.0,171.3 437.0,164.4 L437.5,164.4 Q437.5,171.3 438.1,176.9 Z" fill="url(#R12)"/><path d="M436.6,176.9 Q437.2,173.4 437.2,169.0 L437.7,169.0 Q437.7,173.4 438.3,176.9 Z" fill="url(#R8)"/><path d="M443.1,177.2 Q443.8,171.3 443.8,164.1 L444.3,164.1 Q444.4,171.3 445.1,177.2 Z" fill="url(#R14)"/><polygon points="438.5,177.2 439.3,173.8 440.2,177.2" fill="#2D7AE8"/><path d="M436.3,177.3 Q437.0,171.4 437.1,164.2 L437.6,164.2 Q437.6,171.4 438.3,177.3 Z" fill="url(#R14)"/><polygon points="441.5,177.6 442.3,171.4 443.2,177.6" fill="#2B91ED"/><polygon points="404.1,177.7 405.1,175.2 406.1,177.7" fill="#2F70E4"/><polygon points="439.1,177.8 440.2,171.9 441.3,177.8" fill="#2B90ED"/><path d="M440.0,177.9 Q440.5,171.9 440.5,164.6 L441.0,164.6 Q441.0,171.9 441.5,177.9 Z" fill="url(#R14)"/><path d="M432.5,177.9 Q433.0,172.6 433.0,166.2 L433.5,166.2 Q433.5,172.6 434.0,177.9 Z" fill="url(#R12)"/><polygon points="446.2,177.9 447.0,174.4 447.8,177.9" fill="#2D7AE8"/><path d="M434.0,178.1 Q434.7,173.3 434.8,167.4 L435.3,167.4 Q435.4,173.3 436.1,178.1 Z" fill="url(#R10)"/><path d="M444.9,178.1 Q445.6,170.6 445.6,161.5 L446.1,161.5 Q446.2,170.6 446.9,178.1 Z" fill="url(#R16)"/><polygon points="431.1,178.1 432.2,174.0 433.2,178.1" fill="#2D82EA"/><polygon points="431.8,178.1 432.5,173.3 433.3,178.1" fill="#2C88EC"/><path d="M444.6,178.1 Q445.3,174.3 445.4,169.6 L445.9,169.6 Q445.9,174.3 446.6,178.1 Z" fill="url(#R8)"/><polygon points="445.3,178.3 446.4,172.6 447.4,178.3" fill="#2B8EED"/><path d="M444.3,178.3 Q444.8,171.9 444.8,164.0 L445.3,164.0 Q445.3,171.9 445.8,178.3 Z" fill="url(#R14)"/><polygon points="439.8,178.6 440.8,175.3 441.7,178.6" fill="#2E79E7"/><polygon points="436.0,178.6 437.0,173.7 438.0,178.6" fill="#2C88EC"/><path d="M435.0,178.6 Q435.7,174.1 435.7,168.5 L436.2,168.5 Q436.2,174.1 436.9,178.6 Z" fill="url(#R10)"/><polygon points="397.6,178.9 398.5,175.1 399.3,178.9" fill="#2D7DE9"/><path d="M431.7,179.2 Q432.2,174.9 432.2,169.6 L432.7,169.6 Q432.6,174.9 433.2,179.2 Z" fill="url(#R10)"/><polygon points="386.2,179.3 387.2,176.8 388.1,179.3" fill="#2F6FE4"/><path d="M433.2,179.3 Q433.8,173.4 433.7,166.2 L434.2,166.2 Q434.2,173.4 434.7,179.3 Z" fill="url(#R14)"/><path d="M426.8,179.8 Q427.4,175.4 427.4,170.1 L427.9,170.1 Q427.9,175.4 428.5,179.8 Z" fill="url(#R10)"/><polygon points="397.4,179.9 398.2,177.9 399.1,179.9" fill="#2F6AE2"/><polygon points="427.1,180.0 428.0,175.3 428.9,180.0" fill="#2C87EC"/><polygon points="434.3,180.4 435.2,177.1 436.1,180.4" fill="#2E78E7"/><polygon points="431.3,180.5 432.2,176.8 433.1,180.5" fill="#2D7CE9"/><polygon points="428.5,180.6 429.5,174.7 430.5,180.6" fill="#2B8FED"/><polygon points="431.6,180.9 432.3,176.8 433.0,180.9" fill="#2D80EA"/><path d="M430.5,180.9 Q431.6,171.5 431.8,160.0 L432.2,160.0 Q432.4,171.5 433.5,180.9 Z" fill="url(#R20)"/><polygon points="421.5,181.0 422.5,177.4 423.6,181.0" fill="#2D7BE8"/><polygon points="436.7,181.0 437.6,177.4 438.5,181.0" fill="#2D7CE8"/><polygon points="433.0,181.0 433.9,175.3 434.8,181.0" fill="#2B8EED"/><path d="M426.6,181.1 Q427.2,175.7 427.3,169.0 L427.8,169.0 Q427.8,175.7 428.4,181.1 Z" fill="url(#R12)"/><polygon points="433.4,181.2 434.2,176.2 434.9,181.2" fill="#2C89EC"/><polygon points="431.7,181.3 432.5,176.6 433.2,181.3" fill="#2C88EC"/><path d="M422.5,181.4 Q423.1,175.9 423.2,169.3 L423.7,169.3 Q423.7,175.9 424.4,181.4 Z" fill="url(#R12)"/><polygon points="426.9,181.5 428.0,178.1 429.0,181.5" fill="#2E79E7"/><path d="M429.8,181.5 Q430.3,174.0 430.3,164.9 L430.8,164.9 Q430.8,174.0 431.3,181.5 Z" fill="url(#R16)"/><path d="M431.5,181.6 Q432.1,174.9 432.1,166.7 L432.6,166.7 Q432.6,174.9 433.2,181.6 Z" fill="url(#R14)"/><path d="M423.8,181.7 Q424.4,174.1 424.4,164.8 L424.9,164.8 Q424.9,174.1 425.6,181.7 Z" fill="url(#R16)"/><path d="M431.0,181.8 Q431.8,174.8 431.8,166.2 L432.3,166.2 Q432.4,174.8 433.1,181.8 Z" fill="url(#R16)"/><path d="M432.5,181.8 Q433.1,177.1 433.1,171.3 L433.6,171.3 Q433.6,177.1 434.2,181.8 Z" fill="url(#R10)"/><path d="M427.2,182.0 Q428.1,173.4 428.2,163.0 L428.8,163.0 Q428.9,173.4 429.8,182.0 Z" fill="url(#R18)"/><path d="M429.1,182.2 Q429.8,178.0 429.8,172.8 L430.3,172.8 Q430.4,178.0 431.1,182.2 Z" fill="url(#R10)"/><polygon points="421.3,182.3 422.5,178.9 423.6,182.3" fill="#2E79E7"/><path d="M423.0,182.3 Q423.5,175.5 423.5,167.3 L424.0,167.3 Q423.9,175.5 424.4,182.3 Z" fill="url(#R16)"/><polygon points="398.5,182.7 399.6,180.3 400.7,182.7" fill="#2F6EE3"/><polygon points="428.3,182.8 429.1,179.4 429.8,182.8" fill="#2D7AE8"/><path d="M424.2,182.9 Q425.2,170.3 425.4,155.0 L425.9,155.0 Q426.0,170.3 427.0,182.9 Z" fill="url(#R28)"/><polygon points="418.6,182.9 419.5,176.7 420.4,182.9" fill="#2B92ED"/><path d="M413.8,183.5 Q414.6,179.5 414.7,174.6 L415.2,174.6 Q415.3,179.5 416.0,183.5 Z" fill="url(#R8)"/><polygon points="426.1,183.6 427.0,179.6 428.0,183.6" fill="#2D80EA"/><polygon points="413.0,183.7 414.1,178.0 415.2,183.7" fill="#2B8EED"/><polygon points="418.6,183.7 419.4,180.4 420.1,183.7" fill="#2E79E7"/><path d="M419.8,183.9 Q421.1,171.9 420.9,156.9 L421.6,124.0 L423.1,124.0 L423.8,156.9 Q423.7,171.9 425.0,183.9 Z" fill="url(#Rc11)"/><polygon points="425.2,183.9 426.0,180.1 426.9,183.9" fill="#2D7FE9"/><polygon points="422.4,184.1 423.3,177.6 424.1,184.1" fill="#2A94EE"/><polygon points="423.3,184.5 424.1,181.0 425.0,184.5" fill="#2D7AE8"/><polygon points="415.2,184.5 416.3,181.3 417.4,184.5" fill="#2E78E7"/><path d="M417.8,184.6 Q418.4,179.5 418.4,173.4 L418.9,173.4 Q418.9,179.5 419.6,184.6 Z" fill="url(#R12)"/><polygon points="413.5,184.7 414.4,180.9 415.4,184.7" fill="#2D7EE9"/><path d="M418.1,184.8 Q419.1,172.7 419.2,158.0 L419.8,158.0 Q419.9,172.7 420.9,184.8 Z" fill="url(#R26)"/><path d="M414.9,185.1 Q415.6,181.5 415.7,177.1 L416.2,177.1 Q416.2,181.5 416.9,185.1 Z" fill="url(#R8)"/><path d="M415.0,185.1 Q415.6,179.3 415.6,172.1 L416.1,172.1 Q416.1,179.3 416.7,185.1 Z" fill="url(#R12)"/><polygon points="410.0,185.3 411.0,181.5 412.0,185.3" fill="#2D7DE9"/><path d="M416.5,185.3 Q417.1,180.8 417.1,175.2 L417.6,175.2 Q417.6,180.8 418.2,185.3 Z" fill="url(#R10)"/><polygon points="407.1,185.8 407.9,182.6 408.8,185.8" fill="#2E77E7"/><polygon points="415.0,185.8 416.1,182.8 417.1,185.8" fill="#2E75E6"/><path d="M415.1,185.9 Q415.8,182.6 415.8,178.6 L416.3,178.6 Q416.4,182.6 417.1,185.9 Z" fill="url(#R8)"/><polygon points="415.8,185.9 416.9,182.7 418.0,185.9" fill="#2E77E7"/><polygon points="406.7,186.1 407.6,179.8 408.4,186.1" fill="#2A93EE"/><polygon points="411.8,186.6 412.8,183.8 413.8,186.6" fill="#2E73E5"/><polygon points="403.4,186.8 404.3,180.1 405.2,186.8" fill="#2A95EE"/><path d="M405.4,186.8 Q406.2,182.6 406.3,177.4 L406.8,177.4 Q406.8,182.6 407.6,186.8 Z" fill="url(#R10)"/><polygon points="404.8,186.8 405.7,182.1 406.6,186.8" fill="#2C87EC"/><path d="M414.4,186.9 Q415.1,182.9 415.2,178.0 L415.7,178.0 Q415.8,182.9 416.5,186.9 Z" fill="url(#R8)"/><path d="M414.2,187.1 Q414.7,180.8 414.7,173.1 L415.2,173.1 Q415.1,180.8 415.6,187.1 Z" fill="url(#R14)"/><path d="M410.5,187.2 Q411.6,177.2 411.8,165.0 L412.2,165.0 Q412.4,177.2 413.5,187.2 Z" fill="url(#R22)"/><polygon points="392.9,187.2 393.8,186.2 394.8,187.2" fill="#315FDE"/><polygon points="402.3,187.3 403.4,182.2 404.5,187.3" fill="#2B8AED"/><polygon points="405.5,187.5 406.4,184.6 407.2,187.5" fill="#2E73E5"/><polygon points="407.1,187.7 407.9,184.4 408.8,187.7" fill="#2E78E7"/><polygon points="400.6,188.0 401.5,182.9 402.4,188.0" fill="#2C8AEC"/><polygon points="401.8,188.4 402.9,181.9 403.9,188.4" fill="#2A94EE"/><path d="M408.5,188.5 Q409.2,184.3 409.3,179.1 L409.8,179.1 Q409.8,184.3 410.5,188.5 Z" fill="url(#R10)"/><path d="M404.0,188.8 Q404.8,183.2 404.8,176.4 L405.3,176.4 Q405.4,183.2 406.1,188.8 Z" fill="url(#R12)"/><polygon points="401.3,188.9 402.4,185.1 403.5,188.9" fill="#2D7EE9"/><path d="M409.0,189.4 Q409.7,185.8 409.8,181.4 L410.3,181.4 Q410.3,185.8 411.0,189.4 Z" fill="url(#R8)"/><polygon points="396.5,189.6 397.3,185.0 398.2,189.6" fill="#2C87EC"/><polygon points="396.2,189.7 397.2,187.4 398.1,189.7" fill="#2F6DE3"/><polygon points="396.2,189.7 397.1,186.9 397.9,189.7" fill="#2E73E5"/><polygon points="406.0,189.9 407.0,183.8 408.0,189.9" fill="#2B91ED"/><polygon points="402.1,190.4 402.9,187.7 403.6,190.4" fill="#2E71E5"/><polygon points="395.1,190.5 396.0,188.1 396.9,190.5" fill="#2F6EE3"/><polygon points="399.0,190.6 399.9,184.5 400.8,190.6" fill="#2B91ED"/><path d="M399.3,190.7 Q400.1,185.7 400.2,179.5 L400.7,179.5 Q400.7,185.7 401.5,190.7 Z" fill="url(#R12)"/><polygon points="392.5,190.9 393.4,188.8 394.3,190.9" fill="#2F6BE2"/><polygon points="398.9,191.2 399.8,188.4 400.6,191.2" fill="#2E73E5"/><polygon points="400.9,191.2 401.8,187.6 402.6,191.2" fill="#2D7BE8"/><polygon points="390.7,191.4 391.6,187.6 392.4,191.4" fill="#2D7EE9"/><polygon points="393.1,191.4 394.1,185.6 395.2,191.4" fill="#2B8FED"/><polygon points="403.5,191.5 404.4,188.9 405.2,191.5" fill="#2F71E4"/><path d="M403.0,191.5 Q403.6,186.6 403.7,180.7 L404.2,180.7 Q404.2,186.6 404.9,191.5 Z" fill="url(#R10)"/><path d="M388.7,192.5 Q389.3,189.1 389.2,184.9 L389.7,184.9 Q389.7,189.1 390.2,192.5 Z" fill="url(#R8)"/><path d="M399.5,192.6 Q400.1,188.9 400.0,184.4 L400.5,184.4 Q400.5,188.9 401.1,192.6 Z" fill="url(#R8)"/><path d="M393.6,192.6 Q394.4,188.7 394.4,184.0 L394.9,184.0 Q395.0,188.7 395.7,192.6 Z" fill="url(#R8)"/><polygon points="396.4,192.6 397.4,189.8 398.3,192.6" fill="#2E74E5"/><polygon points="387.2,192.8 388.3,189.8 389.4,192.8" fill="#2E74E6"/><polygon points="389.4,192.8 390.2,186.7 391.1,192.8" fill="#2B91ED"/><polygon points="395.3,193.1 396.2,190.3 397.1,193.1" fill="#2E72E5"/><polygon points="386.7,193.1 387.5,190.7 388.3,193.1" fill="#2F6EE4"/><polygon points="395.2,193.1 396.0,189.4 396.8,193.1" fill="#2D7CE9"/><polygon points="396.9,193.2 397.9,189.8 398.9,193.2" fill="#2E79E7"/><polygon points="396.7,193.4 397.8,186.5 398.9,193.4" fill="#2A97EE"/><polygon points="395.2,193.6 396.4,186.7 397.5,193.6" fill="#2A96EE"/><path d="M397.2,193.6 Q397.7,190.0 397.6,185.6 L398.1,185.6 Q398.1,190.0 398.6,193.6 Z" fill="url(#R8)"/><polygon points="395.4,193.6 396.3,188.9 397.3,193.6" fill="#2C87EC"/><polygon points="390.2,193.8 391.0,190.7 391.9,193.8" fill="#2E76E6"/><polygon points="394.7,193.9 395.8,189.5 396.9,193.9" fill="#2C84EB"/><path d="M388.9,194.0 Q389.5,190.4 389.6,186.0 L390.1,186.0 Q390.1,190.4 390.8,194.0 Z" fill="url(#R8)"/><polygon points="391.2,194.3 392.2,187.5 393.3,194.3" fill="#2A95EE"/><polygon points="386.6,194.5 387.7,191.4 388.8,194.5" fill="#2E76E6"/><path d="M391.9,194.6 Q392.4,190.0 392.4,184.4 L392.9,184.4 Q392.9,190.0 393.4,194.6 Z" fill="url(#R10)"/><polygon points="388.9,195.3 390.0,190.0 391.1,195.3" fill="#2B8BED"/><polygon points="388.2,195.4 389.2,193.1 390.3,195.4" fill="#2F6EE3"/><polygon points="391.2,195.5 392.2,191.0 393.1,195.5" fill="#2C86EC"/><polygon points="406.0,196.6 406.9,195.3 407.9,196.6" fill="#3063DF"/></g>
<text x="324.6" y="17.1" font-family='"Liberation Sans", Arial, sans-serif' font-size="10.8" font-weight="bold" fill="#000">Wet Drill String 3D-Wavelet Power Spectral</text>
<text transform="translate(317.4 75.3) scale(0.95 1)" font-family='"Liberation Sans", Arial, sans-serif' font-size="8.6" fill="#3a3a3a" text-anchor="end">1</text>
<text transform="translate(317.4 96.6) scale(0.95 1)" font-family='"Liberation Sans", Arial, sans-serif' font-size="8.6" fill="#3a3a3a" text-anchor="end">0.5</text>
<text transform="translate(317.4 117.8) scale(0.95 1)" font-family='"Liberation Sans", Arial, sans-serif' font-size="8.6" fill="#3a3a3a" text-anchor="end">0</text>
<text transform="translate(298.6 44.0) scale(0.95 1)" font-family='"Liberation Sans", Arial, sans-serif' font-size="8.8" fill="#3a3a3a">×<tspan dx="1.2">10</tspan><tspan dy="-4.6" font-size="6.6">-7</tspan></text>
<text transform="translate(299.7 132.9) scale(0.88 1) rotate(-90)" font-family='"Liberation Sans", Arial, sans-serif' font-size="10.2" fill="#3a3a3a" text-anchor="start">Power Spectral(dB)</text>
<text transform="translate(309.2 131.1) scale(0.95 1)" font-family='"Liberation Sans", Arial, sans-serif' font-size="8.6" fill="#3a3a3a" text-anchor="middle">300</text>
<text transform="translate(331.8 158.6) scale(0.95 1)" font-family='"Liberation Sans", Arial, sans-serif' font-size="8.6" fill="#3a3a3a" text-anchor="middle">200</text>
<text transform="translate(354.8 186.0) scale(0.95 1)" font-family='"Liberation Sans", Arial, sans-serif' font-size="8.6" fill="#3a3a3a" text-anchor="middle">100</text>
<text transform="translate(381.6 214.0) scale(0.95 1)" font-family='"Liberation Sans", Arial, sans-serif' font-size="8.6" fill="#3a3a3a" text-anchor="middle">0</text>
<text transform="translate(396.6 217.6) scale(0.95 1)" font-family='"Liberation Sans", Arial, sans-serif' font-size="8.6" fill="#3a3a3a" text-anchor="middle">0</text>
<text transform="translate(426.5 208.0) scale(0.95 1)" font-family='"Liberation Sans", Arial, sans-serif' font-size="8.6" fill="#3a3a3a" text-anchor="middle">10</text>
<text transform="translate(453.8 199.5) scale(0.95 1)" font-family='"Liberation Sans", Arial, sans-serif' font-size="8.6" fill="#3a3a3a" text-anchor="middle">20</text>
<text transform="translate(481.0 192.1) scale(0.95 1)" font-family='"Liberation Sans", Arial, sans-serif' font-size="8.6" fill="#3a3a3a" text-anchor="middle">30</text>
<text transform="translate(508.5 183.2) scale(0.95 1)" font-family='"Liberation Sans", Arial, sans-serif' font-size="8.6" fill="#3a3a3a" text-anchor="middle">40</text>
<text transform="translate(535.6 175.8) scale(0.95 1)" font-family='"Liberation Sans", Arial, sans-serif' font-size="8.6" fill="#3a3a3a" text-anchor="middle">50</text>
<text x="305.5" y="154.0" font-family='"Liberation Serif", "Times New Roman", serif' font-size="9.9" font-weight="bold" font-style="normal" fill="#111" text-anchor="start" transform="rotate(52 305.5 154.0)" >Frequency (Hz)</text>
<text x="458.0" y="214.7" font-family='"Liberation Serif", "Times New Roman", serif' font-size="10.1" font-weight="bold" font-style="normal" fill="#111" text-anchor="start" transform="rotate(-12 458.0 214.7)" >Time (s)</text>
<text x="420.6" y="237.8" font-family='"Liberation Serif", "Times New Roman", serif' font-size="11.8" font-weight="bold" font-style="normal" fill="#111" text-anchor="middle" >(b)</text>
<line x1="519.2" y1="110.2" x2="519.2" y2="106" stroke="#777" stroke-width="0.6"/>
<rect x="470.8" y="74.6" width="48.0" height="32.6" rx="1.5" fill="#FFFFFF" fill-opacity="0.97" stroke="#C4C4C4" stroke-width="0.7"/>
<text x="474.0" y="86.3" font-family='"Liberation Sans", Arial, sans-serif' font-size="6.45" fill="#555">X <tspan font-weight="bold" fill="#2490DC">49.0258</tspan></text>
<text x="474.0" y="94.9" font-family='"Liberation Sans", Arial, sans-serif' font-size="6.45" fill="#555">Y <tspan font-weight="bold" fill="#2490DC">18.7683</tspan></text>
<text x="474.0" y="103.8" font-family='"Liberation Sans", Arial, sans-serif' font-size="6.45" fill="#555">Z <tspan font-weight="bold" fill="#2490DC">1.07105e-07</tspan></text>
<circle cx="519.2" cy="110.0" r="1.45" fill="#111"/>
</svg>
</body></html>
